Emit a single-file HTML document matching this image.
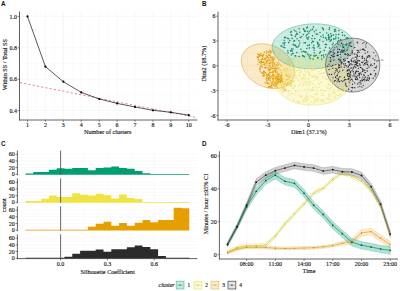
<!DOCTYPE html>
<html><head><meta charset="utf-8"><style>
html,body{margin:0;padding:0;background:#fff;}
svg{display:block;}
</style></head><body>
<svg width="400" height="291" viewBox="0 0 400 291">
<rect width="400" height="291" fill="#fff"/>
<line x1="27.50" y1="11.40" x2="27.50" y2="120.00" stroke="#f2f2f2" stroke-width="0.6" />
<line x1="45.42" y1="11.40" x2="45.42" y2="120.00" stroke="#f2f2f2" stroke-width="0.6" />
<line x1="63.34" y1="11.40" x2="63.34" y2="120.00" stroke="#f2f2f2" stroke-width="0.6" />
<line x1="81.26" y1="11.40" x2="81.26" y2="120.00" stroke="#f2f2f2" stroke-width="0.6" />
<line x1="99.18" y1="11.40" x2="99.18" y2="120.00" stroke="#f2f2f2" stroke-width="0.6" />
<line x1="117.10" y1="11.40" x2="117.10" y2="120.00" stroke="#f2f2f2" stroke-width="0.6" />
<line x1="135.02" y1="11.40" x2="135.02" y2="120.00" stroke="#f2f2f2" stroke-width="0.6" />
<line x1="152.94" y1="11.40" x2="152.94" y2="120.00" stroke="#f2f2f2" stroke-width="0.6" />
<line x1="170.86" y1="11.40" x2="170.86" y2="120.00" stroke="#f2f2f2" stroke-width="0.6" />
<line x1="188.78" y1="11.40" x2="188.78" y2="120.00" stroke="#f2f2f2" stroke-width="0.6" />
<line x1="36.46" y1="11.40" x2="36.46" y2="120.00" stroke="#f2f2f2" stroke-width="0.35" />
<line x1="54.38" y1="11.40" x2="54.38" y2="120.00" stroke="#f2f2f2" stroke-width="0.35" />
<line x1="72.30" y1="11.40" x2="72.30" y2="120.00" stroke="#f2f2f2" stroke-width="0.35" />
<line x1="90.22" y1="11.40" x2="90.22" y2="120.00" stroke="#f2f2f2" stroke-width="0.35" />
<line x1="108.14" y1="11.40" x2="108.14" y2="120.00" stroke="#f2f2f2" stroke-width="0.35" />
<line x1="126.06" y1="11.40" x2="126.06" y2="120.00" stroke="#f2f2f2" stroke-width="0.35" />
<line x1="143.98" y1="11.40" x2="143.98" y2="120.00" stroke="#f2f2f2" stroke-width="0.35" />
<line x1="161.90" y1="11.40" x2="161.90" y2="120.00" stroke="#f2f2f2" stroke-width="0.35" />
<line x1="179.82" y1="11.40" x2="179.82" y2="120.00" stroke="#f2f2f2" stroke-width="0.35" />
<line x1="18.54" y1="11.40" x2="18.54" y2="120.00" stroke="#f2f2f2" stroke-width="0.35" />
<line x1="19.50" y1="110.60" x2="197.30" y2="110.60" stroke="#f2f2f2" stroke-width="0.6" />
<line x1="19.50" y1="79.20" x2="197.30" y2="79.20" stroke="#f2f2f2" stroke-width="0.6" />
<line x1="19.50" y1="47.80" x2="197.30" y2="47.80" stroke="#f2f2f2" stroke-width="0.6" />
<line x1="19.50" y1="16.40" x2="197.30" y2="16.40" stroke="#f2f2f2" stroke-width="0.6" />
<line x1="19.50" y1="94.90" x2="197.30" y2="94.90" stroke="#f2f2f2" stroke-width="0.35" />
<line x1="19.50" y1="63.50" x2="197.30" y2="63.50" stroke="#f2f2f2" stroke-width="0.35" />
<line x1="19.50" y1="32.10" x2="197.30" y2="32.10" stroke="#f2f2f2" stroke-width="0.35" />
<line x1="20.00" y1="82.60" x2="196.40" y2="117.60" stroke="#e2545a" stroke-width="0.7" stroke-dasharray="2.3 2.0"/>
<polyline points="27.50,16.40 45.42,66.64 63.34,81.71 81.26,92.39 99.18,98.98 117.10,103.38 135.02,106.99 152.94,110.29 170.86,112.33 188.78,115.15" fill="none" stroke="#222" stroke-width="0.75"/>
<circle cx="27.50" cy="16.40" r="1.1" fill="#000"/>
<circle cx="45.42" cy="66.64" r="1.1" fill="#000"/>
<circle cx="63.34" cy="81.71" r="1.1" fill="#000"/>
<circle cx="81.26" cy="92.39" r="1.1" fill="#000"/>
<circle cx="99.18" cy="98.98" r="1.1" fill="#000"/>
<circle cx="117.10" cy="103.38" r="1.1" fill="#000"/>
<circle cx="135.02" cy="106.99" r="1.1" fill="#000"/>
<circle cx="152.94" cy="110.29" r="1.1" fill="#000"/>
<circle cx="170.86" cy="112.33" r="1.1" fill="#000"/>
<circle cx="188.78" cy="115.15" r="1.1" fill="#000"/>
<line x1="19.50" y1="11.40" x2="19.50" y2="120.40" stroke="#3a3a3a" stroke-width="0.8" />
<line x1="19.10" y1="120.00" x2="197.30" y2="120.00" stroke="#3a3a3a" stroke-width="0.8" />
<line x1="17.70" y1="110.60" x2="19.50" y2="110.60" stroke="#3a3a3a" stroke-width="0.6" />
<text x="16.90" y="112.70" font-size="6.0" text-anchor="end" font-family='"Liberation Serif", serif' fill="#161616" stroke="#161616" stroke-width="0.14" >0.4</text>
<line x1="17.70" y1="79.20" x2="19.50" y2="79.20" stroke="#3a3a3a" stroke-width="0.6" />
<text x="16.90" y="81.30" font-size="6.0" text-anchor="end" font-family='"Liberation Serif", serif' fill="#161616" stroke="#161616" stroke-width="0.14" >0.6</text>
<line x1="17.70" y1="47.80" x2="19.50" y2="47.80" stroke="#3a3a3a" stroke-width="0.6" />
<text x="16.90" y="49.90" font-size="6.0" text-anchor="end" font-family='"Liberation Serif", serif' fill="#161616" stroke="#161616" stroke-width="0.14" >0.8</text>
<line x1="17.70" y1="16.40" x2="19.50" y2="16.40" stroke="#3a3a3a" stroke-width="0.6" />
<text x="16.90" y="18.50" font-size="6.0" text-anchor="end" font-family='"Liberation Serif", serif' fill="#161616" stroke="#161616" stroke-width="0.14" >1.0</text>
<line x1="27.50" y1="120.00" x2="27.50" y2="121.80" stroke="#3a3a3a" stroke-width="0.6" />
<text x="27.50" y="126.70" font-size="6.0" text-anchor="middle" font-family='"Liberation Serif", serif' fill="#161616" stroke="#161616" stroke-width="0.14" >1</text>
<line x1="45.42" y1="120.00" x2="45.42" y2="121.80" stroke="#3a3a3a" stroke-width="0.6" />
<text x="45.42" y="126.70" font-size="6.0" text-anchor="middle" font-family='"Liberation Serif", serif' fill="#161616" stroke="#161616" stroke-width="0.14" >2</text>
<line x1="63.34" y1="120.00" x2="63.34" y2="121.80" stroke="#3a3a3a" stroke-width="0.6" />
<text x="63.34" y="126.70" font-size="6.0" text-anchor="middle" font-family='"Liberation Serif", serif' fill="#161616" stroke="#161616" stroke-width="0.14" >3</text>
<line x1="81.26" y1="120.00" x2="81.26" y2="121.80" stroke="#3a3a3a" stroke-width="0.6" />
<text x="81.26" y="126.70" font-size="6.0" text-anchor="middle" font-family='"Liberation Serif", serif' fill="#161616" stroke="#161616" stroke-width="0.14" >4</text>
<line x1="99.18" y1="120.00" x2="99.18" y2="121.80" stroke="#3a3a3a" stroke-width="0.6" />
<text x="99.18" y="126.70" font-size="6.0" text-anchor="middle" font-family='"Liberation Serif", serif' fill="#161616" stroke="#161616" stroke-width="0.14" >5</text>
<line x1="117.10" y1="120.00" x2="117.10" y2="121.80" stroke="#3a3a3a" stroke-width="0.6" />
<text x="117.10" y="126.70" font-size="6.0" text-anchor="middle" font-family='"Liberation Serif", serif' fill="#161616" stroke="#161616" stroke-width="0.14" >6</text>
<line x1="135.02" y1="120.00" x2="135.02" y2="121.80" stroke="#3a3a3a" stroke-width="0.6" />
<text x="135.02" y="126.70" font-size="6.0" text-anchor="middle" font-family='"Liberation Serif", serif' fill="#161616" stroke="#161616" stroke-width="0.14" >7</text>
<line x1="152.94" y1="120.00" x2="152.94" y2="121.80" stroke="#3a3a3a" stroke-width="0.6" />
<text x="152.94" y="126.70" font-size="6.0" text-anchor="middle" font-family='"Liberation Serif", serif' fill="#161616" stroke="#161616" stroke-width="0.14" >8</text>
<line x1="170.86" y1="120.00" x2="170.86" y2="121.80" stroke="#3a3a3a" stroke-width="0.6" />
<text x="170.86" y="126.70" font-size="6.0" text-anchor="middle" font-family='"Liberation Serif", serif' fill="#161616" stroke="#161616" stroke-width="0.14" >9</text>
<line x1="188.78" y1="120.00" x2="188.78" y2="121.80" stroke="#3a3a3a" stroke-width="0.6" />
<text x="188.78" y="126.70" font-size="6.0" text-anchor="middle" font-family='"Liberation Serif", serif' fill="#161616" stroke="#161616" stroke-width="0.14" >10</text>
<text x="107.70" y="134.40" font-size="6.2" text-anchor="middle" font-family='"Liberation Serif", serif' fill="#161616" stroke="#161616" stroke-width="0.14" >Number of clusters</text>
<text x="5.20" y="64.60" font-size="6.2" text-anchor="middle" font-family='"Liberation Serif", serif' fill="#161616" stroke="#161616" stroke-width="0.14" transform="rotate(-90 5.2 64.6)" dominant-baseline="middle">Within SS / Total SS</text>
<text x="0.9" y="6.3" font-size="6.3" font-weight="bold" font-family='"Liberation Sans", sans-serif' fill="#111">A</text>
<line x1="227.08" y1="11.60" x2="227.08" y2="120.00" stroke="#f2f2f2" stroke-width="0.6" />
<line x1="218.00" y1="115.42" x2="398.80" y2="115.42" stroke="#f2f2f2" stroke-width="0.6" />
<line x1="267.79" y1="11.60" x2="267.79" y2="120.00" stroke="#f2f2f2" stroke-width="0.6" />
<line x1="218.00" y1="90.61" x2="398.80" y2="90.61" stroke="#f2f2f2" stroke-width="0.6" />
<line x1="308.50" y1="11.60" x2="308.50" y2="120.00" stroke="#f2f2f2" stroke-width="0.6" />
<line x1="218.00" y1="65.80" x2="398.80" y2="65.80" stroke="#f2f2f2" stroke-width="0.6" />
<line x1="349.21" y1="11.60" x2="349.21" y2="120.00" stroke="#f2f2f2" stroke-width="0.6" />
<line x1="218.00" y1="40.99" x2="398.80" y2="40.99" stroke="#f2f2f2" stroke-width="0.6" />
<line x1="389.92" y1="11.60" x2="389.92" y2="120.00" stroke="#f2f2f2" stroke-width="0.6" />
<line x1="218.00" y1="16.18" x2="398.80" y2="16.18" stroke="#f2f2f2" stroke-width="0.6" />
<line x1="247.44" y1="11.60" x2="247.44" y2="120.00" stroke="#f2f2f2" stroke-width="0.35" />
<line x1="218.00" y1="103.01" x2="398.80" y2="103.01" stroke="#f2f2f2" stroke-width="0.35" />
<line x1="288.14" y1="11.60" x2="288.14" y2="120.00" stroke="#f2f2f2" stroke-width="0.35" />
<line x1="218.00" y1="78.20" x2="398.80" y2="78.20" stroke="#f2f2f2" stroke-width="0.35" />
<line x1="328.86" y1="11.60" x2="328.86" y2="120.00" stroke="#f2f2f2" stroke-width="0.35" />
<line x1="218.00" y1="53.39" x2="398.80" y2="53.39" stroke="#f2f2f2" stroke-width="0.35" />
<line x1="369.56" y1="11.60" x2="369.56" y2="120.00" stroke="#f2f2f2" stroke-width="0.35" />
<line x1="218.00" y1="28.59" x2="398.80" y2="28.59" stroke="#f2f2f2" stroke-width="0.35" />
<ellipse cx="268.0" cy="66.2" rx="28.0" ry="20.8" transform="rotate(27 268.0 66.2)" fill="#E69F00" fill-opacity="0.22" stroke="#e3b15a" stroke-width="0.6"/>
<ellipse cx="312.5" cy="80.0" rx="38.5" ry="25.3" transform="rotate(0 312.5 80.0)" fill="#F0E442" fill-opacity="0.22" stroke="#ece07a" stroke-width="0.6"/>
<ellipse cx="313.0" cy="46.3" rx="41" ry="22.5" transform="rotate(-2 313.0 46.3)" fill="#009E73" fill-opacity="0.2" stroke="#5fb99a" stroke-width="0.6"/>
<ellipse cx="352.7" cy="65.1" rx="27.2" ry="27.0" transform="rotate(0 352.7 65.1)" fill="#777777" fill-opacity="0.28" stroke="#444444" stroke-width="0.6"/>
<rect x="299.6" y="66.1" width="1.1" height="1.1" fill="#eee47a"/>
<rect x="322.5" y="62.6" width="1.1" height="1.1" fill="#eee47a"/>
<rect x="314.5" y="75.5" width="1.1" height="1.1" fill="#eee47a"/>
<rect x="281.0" y="81.8" width="1.1" height="1.1" fill="#eee47a"/>
<rect x="279.6" y="78.5" width="1.1" height="1.1" fill="#eee47a"/>
<rect x="306.7" y="95.8" width="1.1" height="1.1" fill="#eee47a"/>
<rect x="285.6" y="69.3" width="1.1" height="1.1" fill="#eee47a"/>
<rect x="320.9" y="101.1" width="1.1" height="1.1" fill="#eee47a"/>
<rect x="317.3" y="76.9" width="1.1" height="1.1" fill="#eee47a"/>
<rect x="337.0" y="72.2" width="1.1" height="1.1" fill="#eee47a"/>
<rect x="298.5" y="95.4" width="1.1" height="1.1" fill="#eee47a"/>
<rect x="289.6" y="85.0" width="1.1" height="1.1" fill="#eee47a"/>
<rect x="321.7" y="75.8" width="1.1" height="1.1" fill="#eee47a"/>
<rect x="315.3" y="62.2" width="1.1" height="1.1" fill="#eee47a"/>
<rect x="324.6" y="78.3" width="1.1" height="1.1" fill="#eee47a"/>
<rect x="298.9" y="85.2" width="1.1" height="1.1" fill="#eee47a"/>
<rect x="308.7" y="72.6" width="1.1" height="1.1" fill="#eee47a"/>
<rect x="332.6" y="90.2" width="1.1" height="1.1" fill="#eee47a"/>
<rect x="294.0" y="84.7" width="1.1" height="1.1" fill="#eee47a"/>
<rect x="313.7" y="98.0" width="1.1" height="1.1" fill="#eee47a"/>
<rect x="328.0" y="72.1" width="1.1" height="1.1" fill="#eee47a"/>
<rect x="306.2" y="92.8" width="1.1" height="1.1" fill="#eee47a"/>
<rect x="287.6" y="81.0" width="1.1" height="1.1" fill="#eee47a"/>
<rect x="279.7" y="88.9" width="1.1" height="1.1" fill="#eee47a"/>
<rect x="330.5" y="84.7" width="1.1" height="1.1" fill="#eee47a"/>
<rect x="338.2" y="73.3" width="1.1" height="1.1" fill="#eee47a"/>
<rect x="325.6" y="85.6" width="1.1" height="1.1" fill="#eee47a"/>
<rect x="317.5" y="79.5" width="1.1" height="1.1" fill="#eee47a"/>
<rect x="310.1" y="88.7" width="1.1" height="1.1" fill="#eee47a"/>
<rect x="281.2" y="90.3" width="1.1" height="1.1" fill="#eee47a"/>
<rect x="334.5" y="72.0" width="1.1" height="1.1" fill="#eee47a"/>
<rect x="304.0" y="88.9" width="1.1" height="1.1" fill="#eee47a"/>
<rect x="278.5" y="79.8" width="1.1" height="1.1" fill="#eee47a"/>
<rect x="286.0" y="70.3" width="1.1" height="1.1" fill="#eee47a"/>
<rect x="304.3" y="97.8" width="1.1" height="1.1" fill="#eee47a"/>
<rect x="282.6" y="79.2" width="1.1" height="1.1" fill="#eee47a"/>
<rect x="315.4" y="98.3" width="1.1" height="1.1" fill="#eee47a"/>
<rect x="334.3" y="97.5" width="1.1" height="1.1" fill="#eee47a"/>
<rect x="296.4" y="77.7" width="1.1" height="1.1" fill="#eee47a"/>
<rect x="302.1" y="98.4" width="1.1" height="1.1" fill="#eee47a"/>
<rect x="289.3" y="69.7" width="1.1" height="1.1" fill="#eee47a"/>
<rect x="293.3" y="80.8" width="1.1" height="1.1" fill="#eee47a"/>
<rect x="318.2" y="71.0" width="1.1" height="1.1" fill="#eee47a"/>
<rect x="302.8" y="84.4" width="1.1" height="1.1" fill="#eee47a"/>
<rect x="343.7" y="89.8" width="1.1" height="1.1" fill="#eee47a"/>
<rect x="313.0" y="86.6" width="1.1" height="1.1" fill="#eee47a"/>
<rect x="324.3" y="61.8" width="1.1" height="1.1" fill="#eee47a"/>
<rect x="339.9" y="93.8" width="1.1" height="1.1" fill="#eee47a"/>
<rect x="338.2" y="94.6" width="1.1" height="1.1" fill="#eee47a"/>
<rect x="304.4" y="77.0" width="1.1" height="1.1" fill="#eee47a"/>
<rect x="284.2" y="87.4" width="1.1" height="1.1" fill="#eee47a"/>
<rect x="291.6" y="66.6" width="1.1" height="1.1" fill="#eee47a"/>
<rect x="300.8" y="61.8" width="1.1" height="1.1" fill="#eee47a"/>
<rect x="284.1" y="75.4" width="1.1" height="1.1" fill="#eee47a"/>
<rect x="319.9" y="66.0" width="1.1" height="1.1" fill="#eee47a"/>
<rect x="294.6" y="74.7" width="1.1" height="1.1" fill="#eee47a"/>
<rect x="302.4" y="64.9" width="1.1" height="1.1" fill="#eee47a"/>
<rect x="309.6" y="80.7" width="1.1" height="1.1" fill="#eee47a"/>
<rect x="300.9" y="71.1" width="1.1" height="1.1" fill="#eee47a"/>
<rect x="335.0" y="66.6" width="1.1" height="1.1" fill="#eee47a"/>
<rect x="313.9" y="65.9" width="1.1" height="1.1" fill="#eee47a"/>
<rect x="315.0" y="60.6" width="1.1" height="1.1" fill="#eee47a"/>
<rect x="313.9" y="102.5" width="1.1" height="1.1" fill="#eee47a"/>
<rect x="337.4" y="90.1" width="1.1" height="1.1" fill="#eee47a"/>
<rect x="295.2" y="75.6" width="1.1" height="1.1" fill="#eee47a"/>
<rect x="288.6" y="93.4" width="1.1" height="1.1" fill="#eee47a"/>
<rect x="314.2" y="93.7" width="1.1" height="1.1" fill="#eee47a"/>
<rect x="300.0" y="69.3" width="1.1" height="1.1" fill="#eee47a"/>
<rect x="336.6" y="94.9" width="1.1" height="1.1" fill="#eee47a"/>
<rect x="334.2" y="92.0" width="1.1" height="1.1" fill="#eee47a"/>
<rect x="292.8" y="82.2" width="1.1" height="1.1" fill="#eee47a"/>
<rect x="301.8" y="60.7" width="1.1" height="1.1" fill="#eee47a"/>
<rect x="295.1" y="89.9" width="1.1" height="1.1" fill="#eee47a"/>
<rect x="343.9" y="79.1" width="1.1" height="1.1" fill="#eee47a"/>
<rect x="343.8" y="75.5" width="1.1" height="1.1" fill="#eee47a"/>
<rect x="292.4" y="69.4" width="1.1" height="1.1" fill="#eee47a"/>
<rect x="290.7" y="68.4" width="1.1" height="1.1" fill="#eee47a"/>
<rect x="320.6" y="99.1" width="1.1" height="1.1" fill="#eee47a"/>
<rect x="335.8" y="80.5" width="1.1" height="1.1" fill="#eee47a"/>
<rect x="322.7" y="94.6" width="1.1" height="1.1" fill="#eee47a"/>
<rect x="282.9" y="88.5" width="1.1" height="1.1" fill="#eee47a"/>
<rect x="340.6" y="93.9" width="1.1" height="1.1" fill="#eee47a"/>
<rect x="329.5" y="80.5" width="1.1" height="1.1" fill="#eee47a"/>
<rect x="289.4" y="94.2" width="1.1" height="1.1" fill="#eee47a"/>
<rect x="300.2" y="94.7" width="1.1" height="1.1" fill="#eee47a"/>
<rect x="345.0" y="76.9" width="1.1" height="1.1" fill="#eee47a"/>
<rect x="305.0" y="101.1" width="1.1" height="1.1" fill="#eee47a"/>
<rect x="327.7" y="66.9" width="1.1" height="1.1" fill="#eee47a"/>
<rect x="287.2" y="95.8" width="1.1" height="1.1" fill="#eee47a"/>
<rect x="301.5" y="83.6" width="1.1" height="1.1" fill="#eee47a"/>
<rect x="344.9" y="88.0" width="1.1" height="1.1" fill="#eee47a"/>
<rect x="313.8" y="100.5" width="1.1" height="1.1" fill="#eee47a"/>
<rect x="307.3" y="97.8" width="1.1" height="1.1" fill="#eee47a"/>
<rect x="334.8" y="68.7" width="1.1" height="1.1" fill="#eee47a"/>
<rect x="294.6" y="72.3" width="1.1" height="1.1" fill="#eee47a"/>
<rect x="293.8" y="85.3" width="1.1" height="1.1" fill="#eee47a"/>
<rect x="295.1" y="77.9" width="1.1" height="1.1" fill="#eee47a"/>
<rect x="301.7" y="79.6" width="1.1" height="1.1" fill="#eee47a"/>
<rect x="317.8" y="99.2" width="1.1" height="1.1" fill="#eee47a"/>
<rect x="306.4" y="99.8" width="1.1" height="1.1" fill="#eee47a"/>
<rect x="312.1" y="82.9" width="1.1" height="1.1" fill="#eee47a"/>
<rect x="313.6" y="60.3" width="1.1" height="1.1" fill="#eee47a"/>
<rect x="307.8" y="67.5" width="1.1" height="1.1" fill="#eee47a"/>
<rect x="289.0" y="80.3" width="1.1" height="1.1" fill="#eee47a"/>
<rect x="327.7" y="83.9" width="1.1" height="1.1" fill="#eee47a"/>
<rect x="299.8" y="82.3" width="1.1" height="1.1" fill="#eee47a"/>
<rect x="315.8" y="94.0" width="1.1" height="1.1" fill="#eee47a"/>
<rect x="284.4" y="84.1" width="1.1" height="1.1" fill="#eee47a"/>
<rect x="294.3" y="71.6" width="1.1" height="1.1" fill="#eee47a"/>
<rect x="331.0" y="81.8" width="1.1" height="1.1" fill="#eee47a"/>
<rect x="316.3" y="92.9" width="1.1" height="1.1" fill="#eee47a"/>
<rect x="340.8" y="79.0" width="1.1" height="1.1" fill="#eee47a"/>
<rect x="319.8" y="81.7" width="1.1" height="1.1" fill="#eee47a"/>
<rect x="312.8" y="89.9" width="1.1" height="1.1" fill="#eee47a"/>
<rect x="308.6" y="82.9" width="1.1" height="1.1" fill="#eee47a"/>
<rect x="310.4" y="100.9" width="1.1" height="1.1" fill="#eee47a"/>
<rect x="325.9" y="98.0" width="1.1" height="1.1" fill="#eee47a"/>
<rect x="316.1" y="101.0" width="1.1" height="1.1" fill="#eee47a"/>
<rect x="335.7" y="65.5" width="1.1" height="1.1" fill="#eee47a"/>
<rect x="285.5" y="78.9" width="1.1" height="1.1" fill="#eee47a"/>
<rect x="282.0" y="70.0" width="1.1" height="1.1" fill="#eee47a"/>
<rect x="282.1" y="88.9" width="1.1" height="1.1" fill="#eee47a"/>
<rect x="331.8" y="98.9" width="1.1" height="1.1" fill="#eee47a"/>
<rect x="287.8" y="91.0" width="1.1" height="1.1" fill="#eee47a"/>
<rect x="323.2" y="65.7" width="1.1" height="1.1" fill="#eee47a"/>
<rect x="304.8" y="80.9" width="1.1" height="1.1" fill="#eee47a"/>
<rect x="288.3" y="78.4" width="1.1" height="1.1" fill="#eee47a"/>
<rect x="313.0" y="74.4" width="1.1" height="1.1" fill="#eee47a"/>
<rect x="290.7" y="73.5" width="1.1" height="1.1" fill="#eee47a"/>
<rect x="315.7" y="78.8" width="1.1" height="1.1" fill="#eee47a"/>
<rect x="320.6" y="82.0" width="1.1" height="1.1" fill="#eee47a"/>
<rect x="284.3" y="71.1" width="1.1" height="1.1" fill="#eee47a"/>
<rect x="295.9" y="65.2" width="1.1" height="1.1" fill="#eee47a"/>
<rect x="306.5" y="99.6" width="1.1" height="1.1" fill="#eee47a"/>
<rect x="334.3" y="70.8" width="1.1" height="1.1" fill="#eee47a"/>
<rect x="316.9" y="90.3" width="1.1" height="1.1" fill="#eee47a"/>
<rect x="325.1" y="78.2" width="1.1" height="1.1" fill="#eee47a"/>
<rect x="321.4" y="94.7" width="1.1" height="1.1" fill="#eee47a"/>
<rect x="308.7" y="74.4" width="1.1" height="1.1" fill="#eee47a"/>
<rect x="315.7" y="100.2" width="1.1" height="1.1" fill="#eee47a"/>
<rect x="295.7" y="65.1" width="1.1" height="1.1" fill="#eee47a"/>
<rect x="313.8" y="69.9" width="1.1" height="1.1" fill="#eee47a"/>
<rect x="298.8" y="72.9" width="1.1" height="1.1" fill="#eee47a"/>
<rect x="330.1" y="72.2" width="1.1" height="1.1" fill="#eee47a"/>
<rect x="312.0" y="67.3" width="1.1" height="1.1" fill="#eee47a"/>
<rect x="328.3" y="83.7" width="1.1" height="1.1" fill="#eee47a"/>
<rect x="290.2" y="80.3" width="1.1" height="1.1" fill="#eee47a"/>
<rect x="334.3" y="78.5" width="1.1" height="1.1" fill="#eee47a"/>
<rect x="311.6" y="96.2" width="1.1" height="1.1" fill="#eee47a"/>
<rect x="304.5" y="81.7" width="1.1" height="1.1" fill="#eee47a"/>
<rect x="300.9" y="96.1" width="1.1" height="1.1" fill="#eee47a"/>
<rect x="326.4" y="87.4" width="1.1" height="1.1" fill="#eee47a"/>
<rect x="305.3" y="74.7" width="1.1" height="1.1" fill="#eee47a"/>
<rect x="281.9" y="92.0" width="1.1" height="1.1" fill="#eee47a"/>
<rect x="294.8" y="66.6" width="1.1" height="1.1" fill="#eee47a"/>
<rect x="337.9" y="89.0" width="1.1" height="1.1" fill="#eee47a"/>
<rect x="296.7" y="70.1" width="1.1" height="1.1" fill="#eee47a"/>
<rect x="297.5" y="79.7" width="1.1" height="1.1" fill="#eee47a"/>
<rect x="288.0" y="79.1" width="1.1" height="1.1" fill="#eee47a"/>
<rect x="345.0" y="83.5" width="1.1" height="1.1" fill="#eee47a"/>
<rect x="298.6" y="75.1" width="1.1" height="1.1" fill="#eee47a"/>
<rect x="310.2" y="81.6" width="1.1" height="1.1" fill="#eee47a"/>
<rect x="291.0" y="81.7" width="1.1" height="1.1" fill="#eee47a"/>
<rect x="283.2" y="77.0" width="1.1" height="1.1" fill="#eee47a"/>
<rect x="298.2" y="69.7" width="1.1" height="1.1" fill="#eee47a"/>
<rect x="317.9" y="82.7" width="1.1" height="1.1" fill="#eee47a"/>
<rect x="329.5" y="88.4" width="1.1" height="1.1" fill="#eee47a"/>
<rect x="327.1" y="98.1" width="1.1" height="1.1" fill="#eee47a"/>
<rect x="304.2" y="73.8" width="1.1" height="1.1" fill="#eee47a"/>
<rect x="327.6" y="87.8" width="1.1" height="1.1" fill="#eee47a"/>
<rect x="339.4" y="87.1" width="1.1" height="1.1" fill="#eee47a"/>
<rect x="328.3" y="95.2" width="1.1" height="1.1" fill="#eee47a"/>
<rect x="286.7" y="82.5" width="1.1" height="1.1" fill="#eee47a"/>
<rect x="312.3" y="96.2" width="1.1" height="1.1" fill="#eee47a"/>
<rect x="333.3" y="95.8" width="1.1" height="1.1" fill="#eee47a"/>
<rect x="317.8" y="98.7" width="1.1" height="1.1" fill="#eee47a"/>
<rect x="324.8" y="90.0" width="1.1" height="1.1" fill="#eee47a"/>
<rect x="286.3" y="75.3" width="1.1" height="1.1" fill="#eee47a"/>
<rect x="316.0" y="87.1" width="1.1" height="1.1" fill="#eee47a"/>
<rect x="320.8" y="89.4" width="1.1" height="1.1" fill="#eee47a"/>
<rect x="311.2" y="59.6" width="1.1" height="1.1" fill="#eee47a"/>
<rect x="332.8" y="92.4" width="1.1" height="1.1" fill="#eee47a"/>
<rect x="312.2" y="83.0" width="1.1" height="1.1" fill="#eee47a"/>
<rect x="323.1" y="62.4" width="1.1" height="1.1" fill="#eee47a"/>
<rect x="328.5" y="70.5" width="1.1" height="1.1" fill="#eee47a"/>
<rect x="282.2" y="71.1" width="1.1" height="1.1" fill="#eee47a"/>
<rect x="328.0" y="68.5" width="1.1" height="1.1" fill="#eee47a"/>
<rect x="311.5" y="76.3" width="1.1" height="1.1" fill="#eee47a"/>
<rect x="310.5" y="89.5" width="1.1" height="1.1" fill="#eee47a"/>
<rect x="330.6" y="86.6" width="1.1" height="1.1" fill="#eee47a"/>
<rect x="321.9" y="62.9" width="1.1" height="1.1" fill="#eee47a"/>
<rect x="287.3" y="70.6" width="1.1" height="1.1" fill="#eee47a"/>
<rect x="329.0" y="72.8" width="1.1" height="1.1" fill="#eee47a"/>
<rect x="316.7" y="60.0" width="1.1" height="1.1" fill="#eee47a"/>
<rect x="281.2" y="71.3" width="1.1" height="1.1" fill="#eee47a"/>
<rect x="324.0" y="89.9" width="1.1" height="1.1" fill="#eee47a"/>
<rect x="324.2" y="72.2" width="1.1" height="1.1" fill="#eee47a"/>
<rect x="313.1" y="79.9" width="1.1" height="1.1" fill="#eee47a"/>
<rect x="309.6" y="64.7" width="1.1" height="1.1" fill="#eee47a"/>
<rect x="339.5" y="68.2" width="1.1" height="1.1" fill="#eee47a"/>
<rect x="278.2" y="79.6" width="1.1" height="1.1" fill="#eee47a"/>
<rect x="308.4" y="71.3" width="1.1" height="1.1" fill="#eee47a"/>
<rect x="291.7" y="85.0" width="1.1" height="1.1" fill="#eee47a"/>
<rect x="286.9" y="82.5" width="1.1" height="1.1" fill="#eee47a"/>
<rect x="334.4" y="81.8" width="1.1" height="1.1" fill="#eee47a"/>
<rect x="339.0" y="90.4" width="1.1" height="1.1" fill="#eee47a"/>
<rect x="293.1" y="98.9" width="1.1" height="1.1" fill="#eee47a"/>
<rect x="311.0" y="60.5" width="1.1" height="1.1" fill="#eee47a"/>
<rect x="277.2" y="81.1" width="1.1" height="1.1" fill="#eee47a"/>
<rect x="308.5" y="72.7" width="1.1" height="1.1" fill="#eee47a"/>
<rect x="286.8" y="74.6" width="1.1" height="1.1" fill="#eee47a"/>
<rect x="299.1" y="96.4" width="1.1" height="1.1" fill="#eee47a"/>
<rect x="341.8" y="90.8" width="1.1" height="1.1" fill="#eee47a"/>
<rect x="340.1" y="72.2" width="1.1" height="1.1" fill="#eee47a"/>
<rect x="303.0" y="76.7" width="1.1" height="1.1" fill="#eee47a"/>
<rect x="302.2" y="78.3" width="1.1" height="1.1" fill="#eee47a"/>
<rect x="296.9" y="100.6" width="1.1" height="1.1" fill="#eee47a"/>
<rect x="294.4" y="71.1" width="1.1" height="1.1" fill="#eee47a"/>
<rect x="312.7" y="67.8" width="1.1" height="1.1" fill="#eee47a"/>
<rect x="303.1" y="101.5" width="1.1" height="1.1" fill="#eee47a"/>
<rect x="338.8" y="95.2" width="1.1" height="1.1" fill="#eee47a"/>
<rect x="321.1" y="99.6" width="1.1" height="1.1" fill="#eee47a"/>
<rect x="342.8" y="83.6" width="1.1" height="1.1" fill="#eee47a"/>
<rect x="328.2" y="79.3" width="1.1" height="1.1" fill="#eee47a"/>
<rect x="329.6" y="87.8" width="1.1" height="1.1" fill="#eee47a"/>
<rect x="297.0" y="61.6" width="1.1" height="1.1" fill="#eee47a"/>
<rect x="310.0" y="74.6" width="1.1" height="1.1" fill="#eee47a"/>
<rect x="297.8" y="92.0" width="1.1" height="1.1" fill="#eee47a"/>
<rect x="322.9" y="72.7" width="1.1" height="1.1" fill="#eee47a"/>
<rect x="316.0" y="76.8" width="1.1" height="1.1" fill="#eee47a"/>
<rect x="288.7" y="66.6" width="1.1" height="1.1" fill="#eee47a"/>
<rect x="311.7" y="69.1" width="1.1" height="1.1" fill="#eee47a"/>
<rect x="308.4" y="65.6" width="1.1" height="1.1" fill="#eee47a"/>
<rect x="300.9" y="63.5" width="1.1" height="1.1" fill="#eee47a"/>
<rect x="293.7" y="70.8" width="1.1" height="1.1" fill="#eee47a"/>
<rect x="316.8" y="98.5" width="1.1" height="1.1" fill="#eee47a"/>
<rect x="329.4" y="77.6" width="1.1" height="1.1" fill="#eee47a"/>
<rect x="305.9" y="82.5" width="1.1" height="1.1" fill="#eee47a"/>
<rect x="303.3" y="74.3" width="1.1" height="1.1" fill="#eee47a"/>
<rect x="281.3" y="71.7" width="1.1" height="1.1" fill="#eee47a"/>
<rect x="312.2" y="87.2" width="1.1" height="1.1" fill="#eee47a"/>
<rect x="337.4" y="69.0" width="1.1" height="1.1" fill="#eee47a"/>
<rect x="295.9" y="70.4" width="1.1" height="1.1" fill="#eee47a"/>
<rect x="304.9" y="79.1" width="1.1" height="1.1" fill="#eee47a"/>
<rect x="339.6" y="80.3" width="1.1" height="1.1" fill="#eee47a"/>
<rect x="304.4" y="100.2" width="1.1" height="1.1" fill="#eee47a"/>
<rect x="334.7" y="97.1" width="1.1" height="1.1" fill="#eee47a"/>
<rect x="313.5" y="89.5" width="1.1" height="1.1" fill="#eee47a"/>
<rect x="342.9" y="91.2" width="1.1" height="1.1" fill="#eee47a"/>
<rect x="322.3" y="93.1" width="1.1" height="1.1" fill="#eee47a"/>
<rect x="309.0" y="83.7" width="1.1" height="1.1" fill="#eee47a"/>
<rect x="293.2" y="99.9" width="1.1" height="1.1" fill="#eee47a"/>
<rect x="322.1" y="72.8" width="1.1" height="1.1" fill="#eee47a"/>
<rect x="285.9" y="70.5" width="1.1" height="1.1" fill="#eee47a"/>
<rect x="321.5" y="90.2" width="1.1" height="1.1" fill="#eee47a"/>
<rect x="313.7" y="85.1" width="1.1" height="1.1" fill="#eee47a"/>
<rect x="304.1" y="69.3" width="1.1" height="1.1" fill="#eee47a"/>
<rect x="319.0" y="59.9" width="1.1" height="1.1" fill="#eee47a"/>
<rect x="298.1" y="79.7" width="1.1" height="1.1" fill="#eee47a"/>
<rect x="344.1" y="87.8" width="1.1" height="1.1" fill="#eee47a"/>
<rect x="338.8" y="80.4" width="1.1" height="1.1" fill="#eee47a"/>
<rect x="293.4" y="70.3" width="1.1" height="1.1" fill="#eee47a"/>
<rect x="311.8" y="89.1" width="1.1" height="1.1" fill="#eee47a"/>
<rect x="306.4" y="70.8" width="1.1" height="1.1" fill="#eee47a"/>
<rect x="323.7" y="100.2" width="1.1" height="1.1" fill="#eee47a"/>
<rect x="300.6" y="78.0" width="1.1" height="1.1" fill="#eee47a"/>
<rect x="324.7" y="68.2" width="1.1" height="1.1" fill="#eee47a"/>
<rect x="332.7" y="92.0" width="1.1" height="1.1" fill="#eee47a"/>
<rect x="312.3" y="68.5" width="1.1" height="1.1" fill="#eee47a"/>
<rect x="334.4" y="69.6" width="1.1" height="1.1" fill="#eee47a"/>
<rect x="292.5" y="92.9" width="1.1" height="1.1" fill="#eee47a"/>
<rect x="297.6" y="101.3" width="1.1" height="1.1" fill="#eee47a"/>
<rect x="311.7" y="67.7" width="1.1" height="1.1" fill="#eee47a"/>
<rect x="292.6" y="77.8" width="1.1" height="1.1" fill="#eee47a"/>
<rect x="323.5" y="101.2" width="1.1" height="1.1" fill="#eee47a"/>
<rect x="287.2" y="76.8" width="1.1" height="1.1" fill="#eee47a"/>
<rect x="281.2" y="76.8" width="1.1" height="1.1" fill="#eee47a"/>
<rect x="342.2" y="73.9" width="1.1" height="1.1" fill="#eee47a"/>
<rect x="323.5" y="76.1" width="1.1" height="1.1" fill="#eee47a"/>
<rect x="303.1" y="74.0" width="1.1" height="1.1" fill="#eee47a"/>
<rect x="296.5" y="74.9" width="1.1" height="1.1" fill="#eee47a"/>
<rect x="301.9" y="95.6" width="1.1" height="1.1" fill="#eee47a"/>
<rect x="334.5" y="78.5" width="1.1" height="1.1" fill="#eee47a"/>
<rect x="280.4" y="80.3" width="1.1" height="1.1" fill="#eee47a"/>
<rect x="303.0" y="99.9" width="1.1" height="1.1" fill="#eee47a"/>
<rect x="290.5" y="75.5" width="1.1" height="1.1" fill="#eee47a"/>
<rect x="305.7" y="95.2" width="1.1" height="1.1" fill="#eee47a"/>
<rect x="341.4" y="70.8" width="1.1" height="1.1" fill="#eee47a"/>
<rect x="329.3" y="99.0" width="1.1" height="1.1" fill="#eee47a"/>
<rect x="300.7" y="71.4" width="1.1" height="1.1" fill="#eee47a"/>
<rect x="344.0" y="86.6" width="1.1" height="1.1" fill="#eee47a"/>
<rect x="295.3" y="91.0" width="1.1" height="1.1" fill="#eee47a"/>
<rect x="299.1" y="71.6" width="1.1" height="1.1" fill="#eee47a"/>
<rect x="341.1" y="87.3" width="1.1" height="1.1" fill="#eee47a"/>
<rect x="293.3" y="80.4" width="1.1" height="1.1" fill="#eee47a"/>
<rect x="304.0" y="70.5" width="1.1" height="1.1" fill="#eee47a"/>
<rect x="307.0" y="81.2" width="1.1" height="1.1" fill="#eee47a"/>
<rect x="333.1" y="91.9" width="1.1" height="1.1" fill="#eee47a"/>
<rect x="334.5" y="93.5" width="1.1" height="1.1" fill="#eee47a"/>
<rect x="319.5" y="73.9" width="1.1" height="1.1" fill="#eee47a"/>
<rect x="299.3" y="75.4" width="1.1" height="1.1" fill="#eee47a"/>
<rect x="290.8" y="92.6" width="1.1" height="1.1" fill="#eee47a"/>
<rect x="279.3" y="83.8" width="1.1" height="1.1" fill="#eee47a"/>
<rect x="295.5" y="63.1" width="1.1" height="1.1" fill="#eee47a"/>
<rect x="283.7" y="81.4" width="1.1" height="1.1" fill="#eee47a"/>
<rect x="326.6" y="79.1" width="1.1" height="1.1" fill="#eee47a"/>
<rect x="293.3" y="77.8" width="1.1" height="1.1" fill="#eee47a"/>
<rect x="320.4" y="89.1" width="1.1" height="1.1" fill="#eee47a"/>
<rect x="329.3" y="96.7" width="1.1" height="1.1" fill="#eee47a"/>
<rect x="323.5" y="64.8" width="1.1" height="1.1" fill="#eee47a"/>
<rect x="335.8" y="72.4" width="1.1" height="1.1" fill="#eee47a"/>
<rect x="316.6" y="75.9" width="1.1" height="1.1" fill="#eee47a"/>
<rect x="328.6" y="68.2" width="1.1" height="1.1" fill="#eee47a"/>
<rect x="294.3" y="70.2" width="1.1" height="1.1" fill="#eee47a"/>
<rect x="317.4" y="73.8" width="1.1" height="1.1" fill="#eee47a"/>
<rect x="312.5" y="69.6" width="1.1" height="1.1" fill="#eee47a"/>
<rect x="333.5" y="88.2" width="1.1" height="1.1" fill="#eee47a"/>
<rect x="310.2" y="95.5" width="1.1" height="1.1" fill="#eee47a"/>
<rect x="285.3" y="67.8" width="1.1" height="1.1" fill="#eee47a"/>
<rect x="345.1" y="85.1" width="1.1" height="1.1" fill="#eee47a"/>
<rect x="342.1" y="75.8" width="1.1" height="1.1" fill="#eee47a"/>
<rect x="337.6" y="79.2" width="1.1" height="1.1" fill="#eee47a"/>
<rect x="295.1" y="93.7" width="1.1" height="1.1" fill="#eee47a"/>
<rect x="318.7" y="86.7" width="1.1" height="1.1" fill="#eee47a"/>
<rect x="292.2" y="75.7" width="1.1" height="1.1" fill="#eee47a"/>
<rect x="286.8" y="68.4" width="1.1" height="1.1" fill="#eee47a"/>
<rect x="294.8" y="85.8" width="1.1" height="1.1" fill="#eee47a"/>
<rect x="322.6" y="68.4" width="1.1" height="1.1" fill="#eee47a"/>
<rect x="324.4" y="67.6" width="1.1" height="1.1" fill="#eee47a"/>
<rect x="298.8" y="68.4" width="1.1" height="1.1" fill="#eee47a"/>
<rect x="332.6" y="83.6" width="1.1" height="1.1" fill="#eee47a"/>
<rect x="304.6" y="83.7" width="1.1" height="1.1" fill="#eee47a"/>
<rect x="321.7" y="63.5" width="1.1" height="1.1" fill="#eee47a"/>
<rect x="288.4" y="90.0" width="1.1" height="1.1" fill="#eee47a"/>
<rect x="305.6" y="71.9" width="1.1" height="1.1" fill="#eee47a"/>
<rect x="298.5" y="101.4" width="1.1" height="1.1" fill="#eee47a"/>
<rect x="298.8" y="84.4" width="1.1" height="1.1" fill="#eee47a"/>
<rect x="302.0" y="77.8" width="1.1" height="1.1" fill="#eee47a"/>
<rect x="302.4" y="68.1" width="1.1" height="1.1" fill="#eee47a"/>
<rect x="327.9" y="68.4" width="1.1" height="1.1" fill="#eee47a"/>
<rect x="306.6" y="95.5" width="1.1" height="1.1" fill="#eee47a"/>
<rect x="305.4" y="98.3" width="1.1" height="1.1" fill="#eee47a"/>
<rect x="309.2" y="66.6" width="1.1" height="1.1" fill="#eee47a"/>
<rect x="278.0" y="83.7" width="1.1" height="1.1" fill="#eee47a"/>
<rect x="321.8" y="99.5" width="1.1" height="1.1" fill="#eee47a"/>
<rect x="283.2" y="86.8" width="1.1" height="1.1" fill="#eee47a"/>
<rect x="302.9" y="81.6" width="1.1" height="1.1" fill="#eee47a"/>
<rect x="287.2" y="71.9" width="1.1" height="1.1" fill="#eee47a"/>
<rect x="313.4" y="100.2" width="1.1" height="1.1" fill="#eee47a"/>
<rect x="284.6" y="81.0" width="1.1" height="1.1" fill="#eee47a"/>
<rect x="290.8" y="65.0" width="1.1" height="1.1" fill="#eee47a"/>
<rect x="310.7" y="61.8" width="1.1" height="1.1" fill="#eee47a"/>
<rect x="341.8" y="76.5" width="1.1" height="1.1" fill="#eee47a"/>
<rect x="340.2" y="86.7" width="1.1" height="1.1" fill="#eee47a"/>
<rect x="334.7" y="66.5" width="1.1" height="1.1" fill="#eee47a"/>
<rect x="332.0" y="69.2" width="1.1" height="1.1" fill="#eee47a"/>
<rect x="305.3" y="96.7" width="1.1" height="1.1" fill="#eee47a"/>
<rect x="335.0" y="67.5" width="1.1" height="1.1" fill="#eee47a"/>
<rect x="292.2" y="77.0" width="1.1" height="1.1" fill="#eee47a"/>
<rect x="313.2" y="76.3" width="1.1" height="1.1" fill="#eee47a"/>
<rect x="285.6" y="70.3" width="1.1" height="1.1" fill="#eee47a"/>
<rect x="327.7" y="98.9" width="1.1" height="1.1" fill="#eee47a"/>
<rect x="279.8" y="84.2" width="1.1" height="1.1" fill="#eee47a"/>
<rect x="318.9" y="83.7" width="1.1" height="1.1" fill="#eee47a"/>
<rect x="320.8" y="72.9" width="1.1" height="1.1" fill="#eee47a"/>
<rect x="306.4" y="85.1" width="1.1" height="1.1" fill="#eee47a"/>
<rect x="306.8" y="88.4" width="1.1" height="1.1" fill="#eee47a"/>
<rect x="308.2" y="78.7" width="1.1" height="1.1" fill="#eee47a"/>
<rect x="278.6" y="86.7" width="1.1" height="1.1" fill="#eee47a"/>
<rect x="311.2" y="69.8" width="1.1" height="1.1" fill="#eee47a"/>
<rect x="330.4" y="93.8" width="1.1" height="1.1" fill="#eee47a"/>
<rect x="309.0" y="67.4" width="1.1" height="1.1" fill="#eee47a"/>
<rect x="310.1" y="64.2" width="1.1" height="1.1" fill="#eee47a"/>
<rect x="285.9" y="78.4" width="1.1" height="1.1" fill="#eee47a"/>
<rect x="283.4" y="78.9" width="1.1" height="1.1" fill="#eee47a"/>
<rect x="312.7" y="61.2" width="1.1" height="1.1" fill="#eee47a"/>
<rect x="321.5" y="63.1" width="1.1" height="1.1" fill="#eee47a"/>
<rect x="328.3" y="93.7" width="1.1" height="1.1" fill="#eee47a"/>
<rect x="312.8" y="61.8" width="1.1" height="1.1" fill="#eee47a"/>
<rect x="312.2" y="76.1" width="1.1" height="1.1" fill="#eee47a"/>
<rect x="273.5" y="51.6" width="1.2" height="1.2" fill="#e39a05"/>
<rect x="277.6" y="79.4" width="1.2" height="1.2" fill="#e39a05"/>
<rect x="275.1" y="83.0" width="1.2" height="1.2" fill="#e39a05"/>
<rect x="279.8" y="81.1" width="1.2" height="1.2" fill="#e39a05"/>
<rect x="269.5" y="55.1" width="1.2" height="1.2" fill="#e39a05"/>
<rect x="267.9" y="54.6" width="1.2" height="1.2" fill="#e39a05"/>
<rect x="260.8" y="61.9" width="1.2" height="1.2" fill="#e39a05"/>
<rect x="258.8" y="61.8" width="1.2" height="1.2" fill="#e39a05"/>
<rect x="277.7" y="81.4" width="1.2" height="1.2" fill="#e39a05"/>
<rect x="262.9" y="70.7" width="1.2" height="1.2" fill="#e39a05"/>
<rect x="274.4" y="67.1" width="1.2" height="1.2" fill="#e39a05"/>
<rect x="268.4" y="86.0" width="1.2" height="1.2" fill="#e39a05"/>
<rect x="272.0" y="58.7" width="1.2" height="1.2" fill="#e39a05"/>
<rect x="269.8" y="77.8" width="1.2" height="1.2" fill="#e39a05"/>
<rect x="267.7" y="51.3" width="1.2" height="1.2" fill="#e39a05"/>
<rect x="276.4" y="82.8" width="1.2" height="1.2" fill="#e39a05"/>
<rect x="260.4" y="52.8" width="1.2" height="1.2" fill="#e39a05"/>
<rect x="268.5" y="65.1" width="1.2" height="1.2" fill="#e39a05"/>
<rect x="259.8" y="61.0" width="1.2" height="1.2" fill="#e39a05"/>
<rect x="260.0" y="66.6" width="1.2" height="1.2" fill="#e39a05"/>
<rect x="265.3" y="72.1" width="1.2" height="1.2" fill="#e39a05"/>
<rect x="272.1" y="68.0" width="1.2" height="1.2" fill="#e39a05"/>
<rect x="261.6" y="58.6" width="1.2" height="1.2" fill="#e39a05"/>
<rect x="278.1" y="75.8" width="1.2" height="1.2" fill="#e39a05"/>
<rect x="262.5" y="75.3" width="1.2" height="1.2" fill="#e39a05"/>
<rect x="272.0" y="65.0" width="1.2" height="1.2" fill="#e39a05"/>
<rect x="271.1" y="83.1" width="1.2" height="1.2" fill="#e39a05"/>
<rect x="265.7" y="60.5" width="1.2" height="1.2" fill="#e39a05"/>
<rect x="262.4" y="72.4" width="1.2" height="1.2" fill="#e39a05"/>
<rect x="264.5" y="73.3" width="1.2" height="1.2" fill="#e39a05"/>
<rect x="269.9" y="56.3" width="1.2" height="1.2" fill="#e39a05"/>
<rect x="267.1" y="82.2" width="1.2" height="1.2" fill="#e39a05"/>
<rect x="265.5" y="81.3" width="1.2" height="1.2" fill="#e39a05"/>
<rect x="272.5" y="65.6" width="1.2" height="1.2" fill="#e39a05"/>
<rect x="258.4" y="55.5" width="1.2" height="1.2" fill="#e39a05"/>
<rect x="276.4" y="77.9" width="1.2" height="1.2" fill="#e39a05"/>
<rect x="269.4" y="64.8" width="1.2" height="1.2" fill="#e39a05"/>
<rect x="267.7" y="74.0" width="1.2" height="1.2" fill="#e39a05"/>
<rect x="269.1" y="50.6" width="1.2" height="1.2" fill="#e39a05"/>
<rect x="278.6" y="80.8" width="1.2" height="1.2" fill="#e39a05"/>
<rect x="273.2" y="62.1" width="1.2" height="1.2" fill="#e39a05"/>
<rect x="272.5" y="71.9" width="1.2" height="1.2" fill="#e39a05"/>
<rect x="272.4" y="78.0" width="1.2" height="1.2" fill="#e39a05"/>
<rect x="270.3" y="75.6" width="1.2" height="1.2" fill="#e39a05"/>
<rect x="267.6" y="74.6" width="1.2" height="1.2" fill="#e39a05"/>
<rect x="259.0" y="55.6" width="1.2" height="1.2" fill="#e39a05"/>
<rect x="262.4" y="57.2" width="1.2" height="1.2" fill="#e39a05"/>
<rect x="273.5" y="70.3" width="1.2" height="1.2" fill="#e39a05"/>
<rect x="262.4" y="74.6" width="1.2" height="1.2" fill="#e39a05"/>
<rect x="280.6" y="80.0" width="1.2" height="1.2" fill="#e39a05"/>
<rect x="281.8" y="80.9" width="1.2" height="1.2" fill="#e39a05"/>
<rect x="258.0" y="53.7" width="1.2" height="1.2" fill="#e39a05"/>
<rect x="274.9" y="77.7" width="1.2" height="1.2" fill="#e39a05"/>
<rect x="257.7" y="56.5" width="1.2" height="1.2" fill="#e39a05"/>
<rect x="265.9" y="66.7" width="1.2" height="1.2" fill="#e39a05"/>
<rect x="267.9" y="77.0" width="1.2" height="1.2" fill="#e39a05"/>
<rect x="277.3" y="64.8" width="1.2" height="1.2" fill="#e39a05"/>
<rect x="259.3" y="68.4" width="1.2" height="1.2" fill="#e39a05"/>
<rect x="268.7" y="75.6" width="1.2" height="1.2" fill="#e39a05"/>
<rect x="270.0" y="52.2" width="1.2" height="1.2" fill="#e39a05"/>
<rect x="257.6" y="58.9" width="1.2" height="1.2" fill="#e39a05"/>
<rect x="259.7" y="70.6" width="1.2" height="1.2" fill="#e39a05"/>
<rect x="263.2" y="70.9" width="1.2" height="1.2" fill="#e39a05"/>
<rect x="270.8" y="84.7" width="1.2" height="1.2" fill="#e39a05"/>
<rect x="273.2" y="67.7" width="1.2" height="1.2" fill="#e39a05"/>
<rect x="265.6" y="78.6" width="1.2" height="1.2" fill="#e39a05"/>
<rect x="268.7" y="63.1" width="1.2" height="1.2" fill="#e39a05"/>
<rect x="270.4" y="52.2" width="1.2" height="1.2" fill="#e39a05"/>
<rect x="262.3" y="61.4" width="1.2" height="1.2" fill="#e39a05"/>
<rect x="272.1" y="82.4" width="1.2" height="1.2" fill="#e39a05"/>
<rect x="272.9" y="75.2" width="1.2" height="1.2" fill="#e39a05"/>
<rect x="265.4" y="64.5" width="1.2" height="1.2" fill="#e39a05"/>
<rect x="275.2" y="76.0" width="1.2" height="1.2" fill="#e39a05"/>
<rect x="275.1" y="69.9" width="1.2" height="1.2" fill="#e39a05"/>
<rect x="272.3" y="58.0" width="1.2" height="1.2" fill="#e39a05"/>
<rect x="277.0" y="78.8" width="1.2" height="1.2" fill="#e39a05"/>
<rect x="262.5" y="63.7" width="1.2" height="1.2" fill="#e39a05"/>
<rect x="263.8" y="58.6" width="1.2" height="1.2" fill="#e39a05"/>
<rect x="269.2" y="86.1" width="1.2" height="1.2" fill="#e39a05"/>
<rect x="280.5" y="74.4" width="1.2" height="1.2" fill="#e39a05"/>
<rect x="266.4" y="74.7" width="1.2" height="1.2" fill="#e39a05"/>
<rect x="260.4" y="54.2" width="1.2" height="1.2" fill="#e39a05"/>
<rect x="271.6" y="66.4" width="1.2" height="1.2" fill="#e39a05"/>
<rect x="263.6" y="74.3" width="1.2" height="1.2" fill="#e39a05"/>
<rect x="273.6" y="63.0" width="1.2" height="1.2" fill="#e39a05"/>
<rect x="264.2" y="58.0" width="1.2" height="1.2" fill="#e39a05"/>
<rect x="276.8" y="72.3" width="1.2" height="1.2" fill="#e39a05"/>
<rect x="270.4" y="66.9" width="1.2" height="1.2" fill="#e39a05"/>
<rect x="262.0" y="66.5" width="1.2" height="1.2" fill="#e39a05"/>
<rect x="267.3" y="59.6" width="1.2" height="1.2" fill="#e39a05"/>
<rect x="269.1" y="62.8" width="1.2" height="1.2" fill="#e39a05"/>
<rect x="266.1" y="74.2" width="1.2" height="1.2" fill="#e39a05"/>
<rect x="275.9" y="84.1" width="1.2" height="1.2" fill="#e39a05"/>
<rect x="268.1" y="79.0" width="1.2" height="1.2" fill="#e39a05"/>
<rect x="262.5" y="72.5" width="1.2" height="1.2" fill="#e39a05"/>
<rect x="271.5" y="71.8" width="1.2" height="1.2" fill="#e39a05"/>
<rect x="273.6" y="84.6" width="1.2" height="1.2" fill="#e39a05"/>
<rect x="272.4" y="79.0" width="1.2" height="1.2" fill="#e39a05"/>
<rect x="261.2" y="55.1" width="1.2" height="1.2" fill="#e39a05"/>
<rect x="259.3" y="68.7" width="1.2" height="1.2" fill="#e39a05"/>
<rect x="264.1" y="62.5" width="1.2" height="1.2" fill="#e39a05"/>
<rect x="276.8" y="68.0" width="1.2" height="1.2" fill="#e39a05"/>
<rect x="264.8" y="60.2" width="1.2" height="1.2" fill="#e39a05"/>
<rect x="274.8" y="71.1" width="1.2" height="1.2" fill="#e39a05"/>
<rect x="269.9" y="85.9" width="1.2" height="1.2" fill="#e39a05"/>
<rect x="277.5" y="77.0" width="1.2" height="1.2" fill="#e39a05"/>
<rect x="265.6" y="54.9" width="1.2" height="1.2" fill="#e39a05"/>
<rect x="271.4" y="59.0" width="1.2" height="1.2" fill="#e39a05"/>
<rect x="265.3" y="58.2" width="1.2" height="1.2" fill="#e39a05"/>
<rect x="262.2" y="61.8" width="1.2" height="1.2" fill="#e39a05"/>
<rect x="269.3" y="72.4" width="1.2" height="1.2" fill="#e39a05"/>
<rect x="281.8" y="78.0" width="1.2" height="1.2" fill="#e39a05"/>
<rect x="280.2" y="76.5" width="1.2" height="1.2" fill="#e39a05"/>
<rect x="267.2" y="51.6" width="1.2" height="1.2" fill="#e39a05"/>
<rect x="268.9" y="59.3" width="1.2" height="1.2" fill="#e39a05"/>
<rect x="268.1" y="79.1" width="1.2" height="1.2" fill="#e39a05"/>
<rect x="280.1" y="77.0" width="1.2" height="1.2" fill="#e39a05"/>
<rect x="273.6" y="75.4" width="1.2" height="1.2" fill="#e39a05"/>
<rect x="278.4" y="78.9" width="1.2" height="1.2" fill="#e39a05"/>
<rect x="271.1" y="76.6" width="1.2" height="1.2" fill="#e39a05"/>
<rect x="267.1" y="60.5" width="1.2" height="1.2" fill="#e39a05"/>
<rect x="263.1" y="53.7" width="1.2" height="1.2" fill="#e39a05"/>
<rect x="267.4" y="67.7" width="1.2" height="1.2" fill="#e39a05"/>
<rect x="264.5" y="82.3" width="1.2" height="1.2" fill="#e39a05"/>
<rect x="275.5" y="79.1" width="1.2" height="1.2" fill="#e39a05"/>
<rect x="270.5" y="50.7" width="1.2" height="1.2" fill="#e39a05"/>
<rect x="262.2" y="72.7" width="1.2" height="1.2" fill="#e39a05"/>
<rect x="271.5" y="84.9" width="1.2" height="1.2" fill="#e39a05"/>
<rect x="269.5" y="49.5" width="1.2" height="1.2" fill="#e39a05"/>
<rect x="270.5" y="81.6" width="1.2" height="1.2" fill="#e39a05"/>
<rect x="273.1" y="77.8" width="1.2" height="1.2" fill="#e39a05"/>
<rect x="268.9" y="69.8" width="1.2" height="1.2" fill="#e39a05"/>
<rect x="272.6" y="63.2" width="1.2" height="1.2" fill="#e39a05"/>
<rect x="274.4" y="82.6" width="1.2" height="1.2" fill="#e39a05"/>
<rect x="263.8" y="64.1" width="1.2" height="1.2" fill="#e39a05"/>
<rect x="276.1" y="77.1" width="1.2" height="1.2" fill="#e39a05"/>
<rect x="276.5" y="67.7" width="1.2" height="1.2" fill="#e39a05"/>
<rect x="258.3" y="60.1" width="1.2" height="1.2" fill="#e39a05"/>
<rect x="276.2" y="76.2" width="1.2" height="1.2" fill="#e39a05"/>
<rect x="272.2" y="70.7" width="1.2" height="1.2" fill="#e39a05"/>
<rect x="268.0" y="56.9" width="1.2" height="1.2" fill="#e39a05"/>
<rect x="268.5" y="53.7" width="1.2" height="1.2" fill="#e39a05"/>
<rect x="278.3" y="79.7" width="1.2" height="1.2" fill="#e39a05"/>
<rect x="277.3" y="75.6" width="1.2" height="1.2" fill="#e39a05"/>
<rect x="264.7" y="67.4" width="1.2" height="1.2" fill="#e39a05"/>
<rect x="277.8" y="82.0" width="1.2" height="1.2" fill="#e39a05"/>
<rect x="257.4" y="57.1" width="1.2" height="1.2" fill="#e39a05"/>
<rect x="276.0" y="64.2" width="1.2" height="1.2" fill="#e39a05"/>
<rect x="277.0" y="82.0" width="1.2" height="1.2" fill="#e39a05"/>
<rect x="262.4" y="55.1" width="1.2" height="1.2" fill="#e39a05"/>
<rect x="258.7" y="54.1" width="1.2" height="1.2" fill="#e39a05"/>
<rect x="270.3" y="86.5" width="1.2" height="1.2" fill="#e39a05"/>
<rect x="257.1" y="53.7" width="1.2" height="1.2" fill="#e39a05"/>
<rect x="270.3" y="57.0" width="1.2" height="1.2" fill="#e39a05"/>
<rect x="277.0" y="78.4" width="1.2" height="1.2" fill="#e39a05"/>
<rect x="272.0" y="74.8" width="1.2" height="1.2" fill="#e39a05"/>
<rect x="271.0" y="84.7" width="1.2" height="1.2" fill="#e39a05"/>
<rect x="263.4" y="75.5" width="1.2" height="1.2" fill="#e39a05"/>
<rect x="269.8" y="78.1" width="1.2" height="1.2" fill="#e39a05"/>
<rect x="262.7" y="54.5" width="1.2" height="1.2" fill="#e39a05"/>
<rect x="271.3" y="75.5" width="1.2" height="1.2" fill="#e39a05"/>
<rect x="268.2" y="73.1" width="1.2" height="1.2" fill="#e39a05"/>
<rect x="272.2" y="77.7" width="1.2" height="1.2" fill="#e39a05"/>
<rect x="269.6" y="61.7" width="1.2" height="1.2" fill="#e39a05"/>
<rect x="276.0" y="78.8" width="1.2" height="1.2" fill="#e39a05"/>
<rect x="280.4" y="76.0" width="1.2" height="1.2" fill="#e39a05"/>
<rect x="272.0" y="82.2" width="1.2" height="1.2" fill="#e39a05"/>
<rect x="276.0" y="80.1" width="1.2" height="1.2" fill="#e39a05"/>
<rect x="257.3" y="63.6" width="1.2" height="1.2" fill="#e39a05"/>
<rect x="280.5" y="79.6" width="1.2" height="1.2" fill="#e39a05"/>
<rect x="278.2" y="78.3" width="1.2" height="1.2" fill="#e39a05"/>
<rect x="277.9" y="74.7" width="1.2" height="1.2" fill="#e39a05"/>
<rect x="260.2" y="54.8" width="1.2" height="1.2" fill="#e39a05"/>
<rect x="268.0" y="77.8" width="1.2" height="1.2" fill="#e39a05"/>
<rect x="272.5" y="73.5" width="1.2" height="1.2" fill="#e39a05"/>
<rect x="268.6" y="76.9" width="1.2" height="1.2" fill="#e39a05"/>
<rect x="266.5" y="80.0" width="1.2" height="1.2" fill="#e39a05"/>
<rect x="276.1" y="80.2" width="1.2" height="1.2" fill="#e39a05"/>
<rect x="270.1" y="71.7" width="1.2" height="1.2" fill="#e39a05"/>
<rect x="265.9" y="77.3" width="1.2" height="1.2" fill="#e39a05"/>
<rect x="267.9" y="69.4" width="1.2" height="1.2" fill="#e39a05"/>
<rect x="276.4" y="62.0" width="1.2" height="1.2" fill="#e39a05"/>
<rect x="268.8" y="54.8" width="1.2" height="1.2" fill="#e39a05"/>
<rect x="265.9" y="52.7" width="1.2" height="1.2" fill="#e39a05"/>
<rect x="274.3" y="65.4" width="1.2" height="1.2" fill="#e39a05"/>
<rect x="274.0" y="63.7" width="1.2" height="1.2" fill="#e39a05"/>
<rect x="280.0" y="81.9" width="1.2" height="1.2" fill="#e39a05"/>
<rect x="260.6" y="59.4" width="1.2" height="1.2" fill="#e39a05"/>
<rect x="272.8" y="80.6" width="1.2" height="1.2" fill="#e39a05"/>
<rect x="269.6" y="51.0" width="1.2" height="1.2" fill="#e39a05"/>
<rect x="268.8" y="86.4" width="1.2" height="1.2" fill="#e39a05"/>
<rect x="276.7" y="81.7" width="1.2" height="1.2" fill="#e39a05"/>
<rect x="266.5" y="56.7" width="1.2" height="1.2" fill="#e39a05"/>
<rect x="258.9" y="55.2" width="1.2" height="1.2" fill="#e39a05"/>
<rect x="280.8" y="79.1" width="1.2" height="1.2" fill="#e39a05"/>
<rect x="274.9" y="71.6" width="1.2" height="1.2" fill="#e39a05"/>
<rect x="257.7" y="57.0" width="1.2" height="1.2" fill="#e39a05"/>
<rect x="268.3" y="59.8" width="1.2" height="1.2" fill="#e39a05"/>
<rect x="260.6" y="64.9" width="1.2" height="1.2" fill="#e39a05"/>
<rect x="264.7" y="57.8" width="1.2" height="1.2" fill="#e39a05"/>
<rect x="265.8" y="50.6" width="1.2" height="1.2" fill="#e39a05"/>
<rect x="267.4" y="86.6" width="1.2" height="1.2" fill="#e39a05"/>
<rect x="280.4" y="79.6" width="1.2" height="1.2" fill="#e39a05"/>
<rect x="268.7" y="83.6" width="1.2" height="1.2" fill="#e39a05"/>
<rect x="266.8" y="62.3" width="1.2" height="1.2" fill="#e39a05"/>
<rect x="266.8" y="55.9" width="1.2" height="1.2" fill="#e39a05"/>
<rect x="274.2" y="70.0" width="1.2" height="1.2" fill="#e39a05"/>
<rect x="264.7" y="67.1" width="1.2" height="1.2" fill="#e39a05"/>
<rect x="273.0" y="61.6" width="1.2" height="1.2" fill="#e39a05"/>
<rect x="273.0" y="83.9" width="1.2" height="1.2" fill="#e39a05"/>
<rect x="266.7" y="83.1" width="1.2" height="1.2" fill="#e39a05"/>
<rect x="266.1" y="61.8" width="1.2" height="1.2" fill="#e39a05"/>
<rect x="274.9" y="85.1" width="1.2" height="1.2" fill="#e39a05"/>
<rect x="260.3" y="63.2" width="1.2" height="1.2" fill="#e39a05"/>
<rect x="270.3" y="60.1" width="1.2" height="1.2" fill="#e39a05"/>
<rect x="272.1" y="61.2" width="1.2" height="1.2" fill="#e39a05"/>
<rect x="275.1" y="68.0" width="1.2" height="1.2" fill="#e39a05"/>
<rect x="271.8" y="56.4" width="1.2" height="1.2" fill="#e39a05"/>
<rect x="267.3" y="78.3" width="1.2" height="1.2" fill="#e39a05"/>
<rect x="256.5" y="56.3" width="1.2" height="1.2" fill="#e39a05"/>
<rect x="260.9" y="58.9" width="1.2" height="1.2" fill="#e39a05"/>
<rect x="275.3" y="69.5" width="1.2" height="1.2" fill="#e39a05"/>
<rect x="271.7" y="63.6" width="1.2" height="1.2" fill="#e39a05"/>
<rect x="272.9" y="59.7" width="1.2" height="1.2" fill="#e39a05"/>
<rect x="263.8" y="51.7" width="1.2" height="1.2" fill="#e39a05"/>
<rect x="272.8" y="59.8" width="1.2" height="1.2" fill="#e39a05"/>
<rect x="262.1" y="58.6" width="1.2" height="1.2" fill="#e39a05"/>
<rect x="260.6" y="71.9" width="1.2" height="1.2" fill="#e39a05"/>
<rect x="266.4" y="75.9" width="1.2" height="1.2" fill="#e39a05"/>
<rect x="267.9" y="77.0" width="1.2" height="1.2" fill="#e39a05"/>
<rect x="267.7" y="82.6" width="1.2" height="1.2" fill="#e39a05"/>
<rect x="269.6" y="69.0" width="1.2" height="1.2" fill="#e39a05"/>
<rect x="273.3" y="56.8" width="1.2" height="1.2" fill="#e39a05"/>
<rect x="269.5" y="80.1" width="1.2" height="1.2" fill="#e39a05"/>
<rect x="269.6" y="57.1" width="1.2" height="1.2" fill="#e39a05"/>
<rect x="270.6" y="68.1" width="1.2" height="1.2" fill="#e39a05"/>
<rect x="278.2" y="73.4" width="1.2" height="1.2" fill="#e39a05"/>
<rect x="269.0" y="68.6" width="1.2" height="1.2" fill="#e39a05"/>
<rect x="261.8" y="55.8" width="1.2" height="1.2" fill="#e39a05"/>
<rect x="264.4" y="72.0" width="1.2" height="1.2" fill="#e39a05"/>
<rect x="279.2" y="81.3" width="1.2" height="1.2" fill="#e39a05"/>
<rect x="273.4" y="68.3" width="1.2" height="1.2" fill="#e39a05"/>
<rect x="271.6" y="62.0" width="1.2" height="1.2" fill="#e39a05"/>
<rect x="274.7" y="82.7" width="1.2" height="1.2" fill="#e39a05"/>
<rect x="279.4" y="78.2" width="1.2" height="1.2" fill="#e39a05"/>
<rect x="281.9" y="80.8" width="1.2" height="1.2" fill="#e39a05"/>
<rect x="269.3" y="62.9" width="1.2" height="1.2" fill="#e39a05"/>
<rect x="268.6" y="68.7" width="1.2" height="1.2" fill="#e39a05"/>
<rect x="281.2" y="74.3" width="1.2" height="1.2" fill="#e39a05"/>
<rect x="279.1" y="79.0" width="1.2" height="1.2" fill="#e39a05"/>
<rect x="268.2" y="59.1" width="1.2" height="1.2" fill="#e39a05"/>
<rect x="274.7" y="81.5" width="1.2" height="1.2" fill="#e39a05"/>
<rect x="269.3" y="65.6" width="1.2" height="1.2" fill="#e39a05"/>
<rect x="268.7" y="74.8" width="1.2" height="1.2" fill="#e39a05"/>
<rect x="276.5" y="67.0" width="1.2" height="1.2" fill="#e39a05"/>
<rect x="265.6" y="56.7" width="1.2" height="1.2" fill="#e39a05"/>
<rect x="264.5" y="66.8" width="1.2" height="1.2" fill="#e39a05"/>
<rect x="263.7" y="71.0" width="1.2" height="1.2" fill="#e39a05"/>
<rect x="272.5" y="73.9" width="1.2" height="1.2" fill="#e39a05"/>
<rect x="268.4" y="69.4" width="1.2" height="1.2" fill="#e39a05"/>
<rect x="263.1" y="61.6" width="1.2" height="1.2" fill="#e39a05"/>
<rect x="269.1" y="71.7" width="1.2" height="1.2" fill="#e39a05"/>
<rect x="270.8" y="57.2" width="1.2" height="1.2" fill="#e39a05"/>
<rect x="271.4" y="86.7" width="1.2" height="1.2" fill="#e39a05"/>
<rect x="258.9" y="55.1" width="1.2" height="1.2" fill="#e39a05"/>
<rect x="259.5" y="67.3" width="1.2" height="1.2" fill="#e39a05"/>
<rect x="260.7" y="60.9" width="1.2" height="1.2" fill="#e39a05"/>
<rect x="260.9" y="65.6" width="1.2" height="1.2" fill="#e39a05"/>
<rect x="275.8" y="78.2" width="1.2" height="1.2" fill="#e39a05"/>
<rect x="276.1" y="74.0" width="1.2" height="1.2" fill="#e39a05"/>
<rect x="286.9" y="79.0" width="1.1" height="1.1" fill="#ebbd45"/>
<rect x="278.3" y="53.9" width="1.1" height="1.1" fill="#ebbd45"/>
<rect x="284.1" y="88.3" width="1.1" height="1.1" fill="#ebbd45"/>
<rect x="288.2" y="84.3" width="1.1" height="1.1" fill="#ebbd45"/>
<rect x="276.9" y="71.0" width="1.1" height="1.1" fill="#ebbd45"/>
<rect x="276.7" y="75.6" width="1.1" height="1.1" fill="#ebbd45"/>
<rect x="287.6" y="84.0" width="1.1" height="1.1" fill="#ebbd45"/>
<rect x="270.7" y="68.1" width="1.1" height="1.1" fill="#ebbd45"/>
<rect x="274.8" y="58.4" width="1.1" height="1.1" fill="#ebbd45"/>
<rect x="289.9" y="83.3" width="1.1" height="1.1" fill="#ebbd45"/>
<rect x="283.1" y="87.1" width="1.1" height="1.1" fill="#ebbd45"/>
<rect x="280.8" y="72.0" width="1.1" height="1.1" fill="#ebbd45"/>
<rect x="285.2" y="89.7" width="1.1" height="1.1" fill="#ebbd45"/>
<rect x="279.6" y="69.5" width="1.1" height="1.1" fill="#ebbd45"/>
<rect x="281.6" y="87.8" width="1.1" height="1.1" fill="#ebbd45"/>
<rect x="268.6" y="70.5" width="1.1" height="1.1" fill="#ebbd45"/>
<rect x="286.0" y="85.4" width="1.1" height="1.1" fill="#ebbd45"/>
<rect x="279.9" y="77.3" width="1.1" height="1.1" fill="#ebbd45"/>
<rect x="283.7" y="84.2" width="1.1" height="1.1" fill="#ebbd45"/>
<rect x="291.2" y="82.6" width="1.1" height="1.1" fill="#ebbd45"/>
<rect x="289.3" y="76.0" width="1.1" height="1.1" fill="#ebbd45"/>
<rect x="284.7" y="69.6" width="1.1" height="1.1" fill="#ebbd45"/>
<rect x="278.9" y="73.6" width="1.1" height="1.1" fill="#ebbd45"/>
<rect x="280.7" y="78.1" width="1.1" height="1.1" fill="#ebbd45"/>
<rect x="273.3" y="57.7" width="1.1" height="1.1" fill="#ebbd45"/>
<rect x="278.3" y="80.0" width="1.1" height="1.1" fill="#ebbd45"/>
<rect x="285.6" y="74.4" width="1.1" height="1.1" fill="#ebbd45"/>
<rect x="279.0" y="75.9" width="1.1" height="1.1" fill="#ebbd45"/>
<rect x="285.2" y="89.4" width="1.1" height="1.1" fill="#ebbd45"/>
<rect x="266.9" y="62.0" width="1.1" height="1.1" fill="#ebbd45"/>
<rect x="265.2" y="62.7" width="1.1" height="1.1" fill="#ebbd45"/>
<rect x="284.9" y="83.1" width="1.1" height="1.1" fill="#ebbd45"/>
<rect x="280.7" y="65.4" width="1.1" height="1.1" fill="#ebbd45"/>
<rect x="270.6" y="67.0" width="1.1" height="1.1" fill="#ebbd45"/>
<rect x="277.1" y="67.8" width="1.1" height="1.1" fill="#ebbd45"/>
<rect x="274.1" y="86.6" width="1.1" height="1.1" fill="#ebbd45"/>
<rect x="279.0" y="77.5" width="1.1" height="1.1" fill="#ebbd45"/>
<rect x="290.5" y="85.3" width="1.1" height="1.1" fill="#ebbd45"/>
<rect x="279.8" y="64.1" width="1.1" height="1.1" fill="#ebbd45"/>
<rect x="284.7" y="89.0" width="1.1" height="1.1" fill="#ebbd45"/>
<rect x="277.9" y="64.3" width="1.1" height="1.1" fill="#ebbd45"/>
<rect x="282.3" y="83.4" width="1.1" height="1.1" fill="#ebbd45"/>
<rect x="272.2" y="62.6" width="1.1" height="1.1" fill="#ebbd45"/>
<rect x="273.4" y="59.5" width="1.1" height="1.1" fill="#ebbd45"/>
<rect x="271.7" y="59.5" width="1.1" height="1.1" fill="#ebbd45"/>
<rect x="272.4" y="65.3" width="1.1" height="1.1" fill="#ebbd45"/>
<rect x="266.8" y="57.3" width="1.1" height="1.1" fill="#ebbd45"/>
<rect x="275.7" y="81.3" width="1.1" height="1.1" fill="#ebbd45"/>
<rect x="277.8" y="59.8" width="1.1" height="1.1" fill="#ebbd45"/>
<rect x="278.4" y="61.5" width="1.1" height="1.1" fill="#ebbd45"/>
<rect x="283.2" y="90.8" width="1.1" height="1.1" fill="#ebbd45"/>
<rect x="274.3" y="63.8" width="1.1" height="1.1" fill="#ebbd45"/>
<rect x="279.7" y="63.6" width="1.1" height="1.1" fill="#ebbd45"/>
<rect x="272.1" y="64.4" width="1.1" height="1.1" fill="#ebbd45"/>
<rect x="278.9" y="58.9" width="1.1" height="1.1" fill="#ebbd45"/>
<rect x="277.2" y="83.7" width="1.1" height="1.1" fill="#ebbd45"/>
<rect x="276.8" y="66.5" width="1.1" height="1.1" fill="#ebbd45"/>
<rect x="277.0" y="86.9" width="1.1" height="1.1" fill="#ebbd45"/>
<rect x="271.7" y="77.0" width="1.1" height="1.1" fill="#ebbd45"/>
<rect x="268.5" y="59.3" width="1.1" height="1.1" fill="#ebbd45"/>
<rect x="274.6" y="82.2" width="1.1" height="1.1" fill="#ebbd45"/>
<rect x="290.8" y="80.0" width="1.1" height="1.1" fill="#ebbd45"/>
<rect x="269.9" y="66.7" width="1.1" height="1.1" fill="#ebbd45"/>
<rect x="278.3" y="68.0" width="1.1" height="1.1" fill="#ebbd45"/>
<rect x="278.9" y="63.2" width="1.1" height="1.1" fill="#ebbd45"/>
<rect x="277.6" y="62.9" width="1.1" height="1.1" fill="#ebbd45"/>
<rect x="285.9" y="79.5" width="1.1" height="1.1" fill="#ebbd45"/>
<rect x="267.9" y="64.4" width="1.1" height="1.1" fill="#ebbd45"/>
<rect x="267.2" y="67.5" width="1.1" height="1.1" fill="#ebbd45"/>
<rect x="285.4" y="73.7" width="1.1" height="1.1" fill="#ebbd45"/>
<rect x="279.8" y="79.4" width="1.1" height="1.1" fill="#ebbd45"/>
<rect x="288.3" y="81.6" width="1.1" height="1.1" fill="#ebbd45"/>
<rect x="286.9" y="75.7" width="1.1" height="1.1" fill="#ebbd45"/>
<rect x="276.0" y="85.7" width="1.1" height="1.1" fill="#ebbd45"/>
<rect x="276.9" y="57.4" width="1.1" height="1.1" fill="#ebbd45"/>
<rect x="287.4" y="83.7" width="1.1" height="1.1" fill="#ebbd45"/>
<rect x="286.5" y="68.5" width="1.1" height="1.1" fill="#ebbd45"/>
<rect x="286.8" y="82.8" width="1.1" height="1.1" fill="#ebbd45"/>
<rect x="272.3" y="81.4" width="1.1" height="1.1" fill="#ebbd45"/>
<rect x="281.0" y="58.8" width="1.1" height="1.1" fill="#ebbd45"/>
<rect x="286.3" y="83.7" width="1.1" height="1.1" fill="#ebbd45"/>
<rect x="288.2" y="76.1" width="1.1" height="1.1" fill="#ebbd45"/>
<rect x="268.1" y="69.7" width="1.1" height="1.1" fill="#ebbd45"/>
<rect x="269.6" y="60.0" width="1.1" height="1.1" fill="#ebbd45"/>
<rect x="269.3" y="64.9" width="1.1" height="1.1" fill="#ebbd45"/>
<rect x="283.7" y="68.2" width="1.1" height="1.1" fill="#ebbd45"/>
<rect x="272.2" y="77.4" width="1.1" height="1.1" fill="#ebbd45"/>
<rect x="283.5" y="82.7" width="1.1" height="1.1" fill="#ebbd45"/>
<rect x="279.8" y="69.8" width="1.1" height="1.1" fill="#ebbd45"/>
<rect x="268.2" y="67.4" width="1.1" height="1.1" fill="#ebbd45"/>
<rect x="267.9" y="68.0" width="1.1" height="1.1" fill="#ebbd45"/>
<rect x="271.7" y="60.8" width="1.1" height="1.1" fill="#ebbd45"/>
<rect x="271.4" y="62.1" width="1.1" height="1.1" fill="#ebbd45"/>
<rect x="291.9" y="80.6" width="1.1" height="1.1" fill="#ebbd45"/>
<rect x="288.7" y="74.3" width="1.1" height="1.1" fill="#ebbd45"/>
<rect x="272.8" y="62.6" width="1.1" height="1.1" fill="#ebbd45"/>
<rect x="286.7" y="75.3" width="1.1" height="1.1" fill="#ebbd45"/>
<rect x="277.7" y="64.5" width="1.1" height="1.1" fill="#ebbd45"/>
<rect x="274.1" y="83.1" width="1.1" height="1.1" fill="#ebbd45"/>
<rect x="275.8" y="77.1" width="1.1" height="1.1" fill="#ebbd45"/>
<rect x="277.1" y="82.5" width="1.1" height="1.1" fill="#ebbd45"/>
<rect x="271.2" y="62.1" width="1.1" height="1.1" fill="#ebbd45"/>
<rect x="275.8" y="76.2" width="1.1" height="1.1" fill="#ebbd45"/>
<rect x="266.3" y="57.7" width="1.1" height="1.1" fill="#ebbd45"/>
<rect x="288.7" y="77.9" width="1.1" height="1.1" fill="#ebbd45"/>
<rect x="278.7" y="73.5" width="1.1" height="1.1" fill="#ebbd45"/>
<rect x="273.9" y="58.0" width="1.1" height="1.1" fill="#ebbd45"/>
<rect x="284.2" y="89.2" width="1.1" height="1.1" fill="#ebbd45"/>
<rect x="273.0" y="62.6" width="1.1" height="1.1" fill="#ebbd45"/>
<rect x="289.8" y="83.2" width="1.1" height="1.1" fill="#ebbd45"/>
<rect x="276.0" y="79.0" width="1.1" height="1.1" fill="#ebbd45"/>
<rect x="273.9" y="70.1" width="1.1" height="1.1" fill="#ebbd45"/>
<rect x="280.8" y="61.2" width="1.1" height="1.1" fill="#ebbd45"/>
<rect x="277.6" y="67.9" width="1.1" height="1.1" fill="#ebbd45"/>
<rect x="276.4" y="71.8" width="1.1" height="1.1" fill="#ebbd45"/>
<rect x="292.7" y="87.7" width="1.1" height="1.1" fill="#ebbd45"/>
<rect x="277.4" y="56.1" width="1.1" height="1.1" fill="#ebbd45"/>
<rect x="276.7" y="75.7" width="1.1" height="1.1" fill="#ebbd45"/>
<rect x="277.4" y="67.1" width="1.1" height="1.1" fill="#ebbd45"/>
<rect x="265.2" y="63.0" width="1.1" height="1.1" fill="#ebbd45"/>
<rect x="272.5" y="80.4" width="1.1" height="1.1" fill="#ebbd45"/>
<rect x="276.6" y="73.9" width="1.1" height="1.1" fill="#ebbd45"/>
<rect x="267.8" y="62.6" width="1.1" height="1.1" fill="#ebbd45"/>
<rect x="276.5" y="86.8" width="1.1" height="1.1" fill="#ebbd45"/>
<rect x="274.5" y="64.5" width="1.1" height="1.1" fill="#ebbd45"/>
<rect x="275.3" y="76.9" width="1.1" height="1.1" fill="#ebbd45"/>
<rect x="273.9" y="58.6" width="1.1" height="1.1" fill="#ebbd45"/>
<rect x="281.2" y="85.1" width="1.1" height="1.1" fill="#ebbd45"/>
<rect x="279.0" y="59.0" width="1.1" height="1.1" fill="#ebbd45"/>
<rect x="275.5" y="85.7" width="1.1" height="1.1" fill="#ebbd45"/>
<circle cx="349.1" cy="45.1" r="0.78" fill="#138a68"/>
<circle cx="335.8" cy="31.0" r="0.78" fill="#138a68"/>
<circle cx="297.1" cy="38.8" r="0.78" fill="#138a68"/>
<circle cx="281.1" cy="46.1" r="0.78" fill="#138a68"/>
<circle cx="295.3" cy="36.4" r="0.78" fill="#138a68"/>
<circle cx="330.9" cy="40.6" r="0.78" fill="#138a68"/>
<circle cx="344.0" cy="47.0" r="0.78" fill="#138a68"/>
<circle cx="342.8" cy="45.1" r="0.78" fill="#138a68"/>
<circle cx="292.1" cy="51.1" r="0.78" fill="#138a68"/>
<circle cx="304.6" cy="51.7" r="0.78" fill="#138a68"/>
<circle cx="329.0" cy="53.7" r="0.78" fill="#138a68"/>
<circle cx="288.8" cy="38.8" r="0.78" fill="#138a68"/>
<circle cx="323.5" cy="29.8" r="0.78" fill="#138a68"/>
<circle cx="319.5" cy="53.0" r="0.78" fill="#138a68"/>
<circle cx="328.6" cy="34.9" r="0.78" fill="#138a68"/>
<circle cx="293.9" cy="41.2" r="0.78" fill="#138a68"/>
<circle cx="340.3" cy="45.7" r="0.78" fill="#138a68"/>
<circle cx="288.0" cy="52.9" r="0.78" fill="#138a68"/>
<circle cx="293.3" cy="44.8" r="0.78" fill="#138a68"/>
<circle cx="300.9" cy="49.2" r="0.78" fill="#138a68"/>
<circle cx="307.4" cy="31.3" r="0.78" fill="#138a68"/>
<circle cx="343.0" cy="44.3" r="0.78" fill="#138a68"/>
<circle cx="329.6" cy="53.2" r="0.78" fill="#138a68"/>
<circle cx="304.7" cy="31.5" r="0.78" fill="#138a68"/>
<circle cx="316.1" cy="55.3" r="0.78" fill="#138a68"/>
<circle cx="293.1" cy="53.5" r="0.78" fill="#138a68"/>
<circle cx="328.9" cy="39.5" r="0.78" fill="#138a68"/>
<circle cx="314.3" cy="31.7" r="0.78" fill="#138a68"/>
<circle cx="340.8" cy="39.5" r="0.78" fill="#138a68"/>
<circle cx="342.9" cy="46.7" r="0.78" fill="#138a68"/>
<circle cx="285.5" cy="37.4" r="0.78" fill="#138a68"/>
<circle cx="295.6" cy="56.0" r="0.78" fill="#138a68"/>
<circle cx="322.4" cy="27.9" r="0.78" fill="#138a68"/>
<circle cx="292.2" cy="38.4" r="0.78" fill="#138a68"/>
<circle cx="313.7" cy="45.5" r="0.78" fill="#138a68"/>
<circle cx="307.9" cy="38.2" r="0.78" fill="#138a68"/>
<circle cx="313.1" cy="59.1" r="0.78" fill="#138a68"/>
<circle cx="328.3" cy="35.5" r="0.78" fill="#138a68"/>
<circle cx="299.7" cy="43.0" r="0.78" fill="#138a68"/>
<circle cx="298.9" cy="45.3" r="0.78" fill="#138a68"/>
<circle cx="318.0" cy="58.1" r="0.78" fill="#138a68"/>
<circle cx="320.4" cy="51.9" r="0.78" fill="#138a68"/>
<circle cx="342.8" cy="52.1" r="0.78" fill="#138a68"/>
<circle cx="325.6" cy="47.4" r="0.78" fill="#138a68"/>
<circle cx="306.1" cy="35.8" r="0.78" fill="#138a68"/>
<circle cx="337.3" cy="55.3" r="0.78" fill="#138a68"/>
<circle cx="347.6" cy="49.0" r="0.78" fill="#138a68"/>
<circle cx="301.9" cy="51.7" r="0.78" fill="#138a68"/>
<circle cx="333.2" cy="43.3" r="0.78" fill="#138a68"/>
<circle cx="325.7" cy="38.1" r="0.78" fill="#138a68"/>
<circle cx="319.7" cy="39.9" r="0.78" fill="#138a68"/>
<circle cx="284.4" cy="37.6" r="0.78" fill="#138a68"/>
<circle cx="314.7" cy="38.6" r="0.78" fill="#138a68"/>
<circle cx="297.5" cy="34.2" r="0.78" fill="#138a68"/>
<circle cx="305.1" cy="31.0" r="0.78" fill="#138a68"/>
<circle cx="312.6" cy="41.2" r="0.78" fill="#138a68"/>
<circle cx="320.9" cy="36.5" r="0.78" fill="#138a68"/>
<circle cx="301.7" cy="36.7" r="0.78" fill="#138a68"/>
<circle cx="332.3" cy="44.7" r="0.78" fill="#138a68"/>
<circle cx="347.5" cy="37.7" r="0.78" fill="#138a68"/>
<circle cx="346.3" cy="45.8" r="0.78" fill="#138a68"/>
<circle cx="321.8" cy="59.1" r="0.78" fill="#138a68"/>
<circle cx="305.7" cy="52.1" r="0.78" fill="#138a68"/>
<circle cx="310.8" cy="55.2" r="0.78" fill="#138a68"/>
<circle cx="284.9" cy="42.5" r="0.78" fill="#138a68"/>
<circle cx="344.7" cy="35.6" r="0.78" fill="#138a68"/>
<circle cx="291.8" cy="35.3" r="0.78" fill="#138a68"/>
<circle cx="330.7" cy="33.7" r="0.78" fill="#138a68"/>
<circle cx="308.8" cy="33.1" r="0.78" fill="#138a68"/>
<circle cx="323.4" cy="55.0" r="0.78" fill="#138a68"/>
<circle cx="326.7" cy="33.0" r="0.78" fill="#138a68"/>
<circle cx="323.3" cy="29.1" r="0.78" fill="#138a68"/>
<circle cx="338.3" cy="55.4" r="0.78" fill="#138a68"/>
<circle cx="304.6" cy="31.0" r="0.78" fill="#138a68"/>
<circle cx="293.5" cy="44.2" r="0.78" fill="#138a68"/>
<circle cx="343.0" cy="47.6" r="0.78" fill="#138a68"/>
<circle cx="303.5" cy="51.2" r="0.78" fill="#138a68"/>
<circle cx="326.7" cy="39.9" r="0.78" fill="#138a68"/>
<circle cx="328.9" cy="37.6" r="0.78" fill="#138a68"/>
<circle cx="284.1" cy="40.2" r="0.78" fill="#138a68"/>
<circle cx="283.3" cy="47.2" r="0.78" fill="#138a68"/>
<circle cx="304.1" cy="42.8" r="0.78" fill="#138a68"/>
<circle cx="323.0" cy="35.0" r="0.78" fill="#138a68"/>
<circle cx="313.4" cy="26.9" r="0.78" fill="#138a68"/>
<circle cx="346.6" cy="45.1" r="0.78" fill="#138a68"/>
<circle cx="324.2" cy="50.4" r="0.78" fill="#138a68"/>
<circle cx="303.7" cy="29.6" r="0.78" fill="#138a68"/>
<circle cx="291.2" cy="31.2" r="0.78" fill="#138a68"/>
<circle cx="335.2" cy="29.5" r="0.78" fill="#138a68"/>
<circle cx="338.6" cy="40.5" r="0.78" fill="#138a68"/>
<circle cx="318.8" cy="45.9" r="0.78" fill="#138a68"/>
<circle cx="320.0" cy="48.2" r="0.78" fill="#138a68"/>
<circle cx="323.3" cy="37.4" r="0.78" fill="#138a68"/>
<circle cx="333.4" cy="35.0" r="0.78" fill="#138a68"/>
<circle cx="331.2" cy="51.7" r="0.78" fill="#138a68"/>
<circle cx="335.9" cy="36.7" r="0.78" fill="#138a68"/>
<circle cx="312.6" cy="35.7" r="0.78" fill="#138a68"/>
<circle cx="317.7" cy="57.6" r="0.78" fill="#138a68"/>
<circle cx="314.3" cy="48.1" r="0.78" fill="#138a68"/>
<circle cx="335.7" cy="38.5" r="0.78" fill="#138a68"/>
<circle cx="334.5" cy="29.5" r="0.78" fill="#138a68"/>
<circle cx="284.3" cy="43.1" r="0.78" fill="#138a68"/>
<circle cx="320.0" cy="32.5" r="0.78" fill="#138a68"/>
<circle cx="347.7" cy="38.6" r="0.78" fill="#138a68"/>
<circle cx="290.8" cy="32.4" r="0.78" fill="#138a68"/>
<circle cx="333.1" cy="56.9" r="0.78" fill="#138a68"/>
<circle cx="336.0" cy="34.5" r="0.78" fill="#138a68"/>
<circle cx="350.7" cy="43.0" r="0.78" fill="#138a68"/>
<circle cx="325.8" cy="37.9" r="0.78" fill="#138a68"/>
<circle cx="337.6" cy="41.7" r="0.78" fill="#138a68"/>
<circle cx="303.3" cy="56.3" r="0.78" fill="#138a68"/>
<circle cx="287.8" cy="50.7" r="0.78" fill="#138a68"/>
<circle cx="284.7" cy="47.8" r="0.78" fill="#138a68"/>
<circle cx="308.9" cy="55.0" r="0.78" fill="#138a68"/>
<circle cx="284.3" cy="45.1" r="0.78" fill="#138a68"/>
<circle cx="309.5" cy="56.8" r="0.78" fill="#138a68"/>
<circle cx="348.0" cy="47.2" r="0.78" fill="#138a68"/>
<circle cx="296.1" cy="34.8" r="0.78" fill="#138a68"/>
<circle cx="298.9" cy="40.8" r="0.78" fill="#138a68"/>
<circle cx="296.7" cy="33.2" r="0.78" fill="#138a68"/>
<circle cx="334.7" cy="47.7" r="0.78" fill="#138a68"/>
<circle cx="295.6" cy="45.3" r="0.78" fill="#138a68"/>
<circle cx="291.3" cy="55.0" r="0.78" fill="#138a68"/>
<circle cx="342.6" cy="35.3" r="0.78" fill="#138a68"/>
<circle cx="334.1" cy="53.7" r="0.78" fill="#138a68"/>
<circle cx="300.3" cy="37.4" r="0.78" fill="#138a68"/>
<circle cx="315.0" cy="55.9" r="0.78" fill="#138a68"/>
<circle cx="291.6" cy="49.0" r="0.78" fill="#138a68"/>
<circle cx="323.0" cy="41.5" r="0.78" fill="#138a68"/>
<circle cx="321.7" cy="55.6" r="0.78" fill="#138a68"/>
<circle cx="295.1" cy="55.7" r="0.78" fill="#138a68"/>
<circle cx="305.9" cy="52.2" r="0.78" fill="#138a68"/>
<circle cx="342.2" cy="32.5" r="0.78" fill="#138a68"/>
<circle cx="290.9" cy="50.8" r="0.78" fill="#138a68"/>
<circle cx="329.2" cy="29.5" r="0.78" fill="#138a68"/>
<circle cx="304.4" cy="56.8" r="0.78" fill="#138a68"/>
<circle cx="331.6" cy="55.6" r="0.78" fill="#138a68"/>
<circle cx="296.9" cy="52.6" r="0.78" fill="#138a68"/>
<circle cx="329.6" cy="27.7" r="0.78" fill="#138a68"/>
<circle cx="316.3" cy="34.1" r="0.78" fill="#138a68"/>
<circle cx="311.0" cy="30.0" r="0.78" fill="#138a68"/>
<circle cx="302.8" cy="55.5" r="0.78" fill="#138a68"/>
<circle cx="288.7" cy="42.6" r="0.78" fill="#138a68"/>
<circle cx="289.8" cy="40.6" r="0.78" fill="#138a68"/>
<circle cx="292.9" cy="49.1" r="0.78" fill="#138a68"/>
<circle cx="290.7" cy="50.9" r="0.78" fill="#138a68"/>
<circle cx="316.1" cy="30.2" r="0.78" fill="#138a68"/>
<circle cx="305.5" cy="42.9" r="0.78" fill="#138a68"/>
<circle cx="346.1" cy="38.0" r="0.78" fill="#138a68"/>
<circle cx="343.6" cy="50.6" r="0.78" fill="#138a68"/>
<circle cx="299.7" cy="32.3" r="0.78" fill="#138a68"/>
<circle cx="299.1" cy="28.8" r="0.78" fill="#138a68"/>
<circle cx="283.1" cy="43.3" r="0.78" fill="#138a68"/>
<circle cx="309.4" cy="44.9" r="0.78" fill="#138a68"/>
<circle cx="329.5" cy="48.1" r="0.78" fill="#138a68"/>
<circle cx="319.2" cy="44.6" r="0.78" fill="#138a68"/>
<circle cx="342.9" cy="50.2" r="0.78" fill="#138a68"/>
<circle cx="308.7" cy="37.0" r="0.78" fill="#138a68"/>
<circle cx="310.2" cy="58.6" r="0.78" fill="#138a68"/>
<circle cx="307.9" cy="39.2" r="0.78" fill="#138a68"/>
<circle cx="309.5" cy="31.2" r="0.78" fill="#138a68"/>
<circle cx="323.8" cy="57.1" r="0.78" fill="#138a68"/>
<circle cx="298.3" cy="46.7" r="0.78" fill="#138a68"/>
<circle cx="307.1" cy="34.4" r="0.78" fill="#138a68"/>
<circle cx="294.3" cy="30.3" r="0.78" fill="#138a68"/>
<circle cx="340.7" cy="52.4" r="0.78" fill="#138a68"/>
<circle cx="330.0" cy="37.2" r="0.78" fill="#138a68"/>
<circle cx="326.5" cy="44.6" r="0.78" fill="#138a68"/>
<circle cx="341.5" cy="43.3" r="0.78" fill="#138a68"/>
<circle cx="296.9" cy="47.3" r="0.78" fill="#138a68"/>
<circle cx="333.5" cy="39.0" r="0.78" fill="#138a68"/>
<circle cx="331.3" cy="39.5" r="0.78" fill="#138a68"/>
<circle cx="317.9" cy="46.7" r="0.78" fill="#138a68"/>
<circle cx="328.8" cy="37.1" r="0.78" fill="#138a68"/>
<circle cx="325.3" cy="44.4" r="0.78" fill="#138a68"/>
<circle cx="296.1" cy="46.7" r="0.78" fill="#138a68"/>
<circle cx="299.1" cy="56.5" r="0.78" fill="#138a68"/>
<circle cx="314.1" cy="50.3" r="0.78" fill="#138a68"/>
<circle cx="317.6" cy="42.2" r="0.78" fill="#138a68"/>
<circle cx="295.9" cy="31.2" r="0.78" fill="#138a68"/>
<circle cx="346.8" cy="43.9" r="0.78" fill="#138a68"/>
<circle cx="317.7" cy="43.9" r="0.78" fill="#138a68"/>
<circle cx="338.6" cy="34.4" r="0.78" fill="#138a68"/>
<circle cx="292.4" cy="53.6" r="0.78" fill="#138a68"/>
<circle cx="313.1" cy="47.6" r="0.78" fill="#138a68"/>
<circle cx="307.5" cy="54.0" r="0.78" fill="#138a68"/>
<circle cx="338.9" cy="30.6" r="0.78" fill="#138a68"/>
<circle cx="291.1" cy="34.8" r="0.78" fill="#138a68"/>
<circle cx="287.4" cy="38.3" r="0.78" fill="#138a68"/>
<circle cx="337.8" cy="43.7" r="0.78" fill="#138a68"/>
<circle cx="312.6" cy="29.4" r="0.78" fill="#138a68"/>
<circle cx="330.0" cy="41.3" r="0.78" fill="#138a68"/>
<circle cx="314.4" cy="52.8" r="0.78" fill="#138a68"/>
<circle cx="334.6" cy="31.4" r="0.78" fill="#138a68"/>
<circle cx="329.0" cy="38.6" r="0.78" fill="#138a68"/>
<circle cx="317.5" cy="34.3" r="0.78" fill="#138a68"/>
<circle cx="306.7" cy="37.7" r="0.78" fill="#138a68"/>
<circle cx="307.4" cy="27.1" r="0.78" fill="#138a68"/>
<circle cx="294.5" cy="45.3" r="0.78" fill="#138a68"/>
<circle cx="331.7" cy="35.6" r="0.78" fill="#138a68"/>
<circle cx="303.3" cy="34.5" r="0.78" fill="#138a68"/>
<circle cx="325.8" cy="54.8" r="0.78" fill="#138a68"/>
<circle cx="294.5" cy="40.5" r="0.78" fill="#138a68"/>
<circle cx="337.0" cy="46.9" r="0.78" fill="#138a68"/>
<circle cx="306.8" cy="27.9" r="0.78" fill="#138a68"/>
<circle cx="311.9" cy="38.6" r="0.78" fill="#138a68"/>
<circle cx="331.3" cy="36.2" r="0.78" fill="#138a68"/>
<circle cx="309.4" cy="47.9" r="0.78" fill="#138a68"/>
<circle cx="338.4" cy="38.1" r="0.78" fill="#138a68"/>
<circle cx="307.7" cy="45.6" r="0.78" fill="#138a68"/>
<circle cx="306.8" cy="48.5" r="0.78" fill="#138a68"/>
<circle cx="303.7" cy="28.8" r="0.78" fill="#138a68"/>
<circle cx="334.4" cy="39.0" r="0.78" fill="#138a68"/>
<circle cx="317.9" cy="42.9" r="0.78" fill="#138a68"/>
<circle cx="344.9" cy="51.5" r="0.78" fill="#138a68"/>
<circle cx="281.8" cy="46.1" r="0.78" fill="#138a68"/>
<circle cx="313.3" cy="41.8" r="0.78" fill="#138a68"/>
<circle cx="340.4" cy="40.2" r="0.78" fill="#138a68"/>
<circle cx="314.1" cy="55.9" r="0.78" fill="#138a68"/>
<circle cx="311.7" cy="42.7" r="0.78" fill="#138a68"/>
<circle cx="327.8" cy="66.3" r="0.68" fill="#2a2a2a"/>
<circle cx="341.8" cy="50.7" r="0.68" fill="#2a2a2a"/>
<circle cx="348.9" cy="70.0" r="0.68" fill="#2a2a2a"/>
<circle cx="345.0" cy="54.2" r="0.68" fill="#2a2a2a"/>
<circle cx="354.7" cy="47.6" r="0.68" fill="#2a2a2a"/>
<circle cx="358.8" cy="73.7" r="0.68" fill="#2a2a2a"/>
<circle cx="373.2" cy="78.3" r="0.68" fill="#2a2a2a"/>
<circle cx="356.5" cy="71.1" r="0.68" fill="#2a2a2a"/>
<circle cx="352.3" cy="52.5" r="0.68" fill="#2a2a2a"/>
<circle cx="370.5" cy="74.1" r="0.68" fill="#2a2a2a"/>
<circle cx="348.4" cy="54.6" r="0.68" fill="#2a2a2a"/>
<circle cx="370.8" cy="74.2" r="0.68" fill="#2a2a2a"/>
<circle cx="337.0" cy="75.8" r="0.68" fill="#2a2a2a"/>
<circle cx="376.0" cy="67.7" r="0.68" fill="#2a2a2a"/>
<circle cx="357.1" cy="63.2" r="0.68" fill="#2a2a2a"/>
<circle cx="344.1" cy="80.5" r="0.68" fill="#2a2a2a"/>
<circle cx="350.4" cy="77.2" r="0.68" fill="#2a2a2a"/>
<circle cx="348.2" cy="76.5" r="0.68" fill="#2a2a2a"/>
<circle cx="362.5" cy="56.2" r="0.68" fill="#2a2a2a"/>
<circle cx="338.5" cy="67.1" r="0.68" fill="#2a2a2a"/>
<circle cx="362.5" cy="71.2" r="0.68" fill="#2a2a2a"/>
<circle cx="367.7" cy="52.0" r="0.68" fill="#2a2a2a"/>
<circle cx="358.2" cy="60.7" r="0.68" fill="#2a2a2a"/>
<circle cx="353.3" cy="71.7" r="0.68" fill="#2a2a2a"/>
<circle cx="339.8" cy="65.3" r="0.68" fill="#2a2a2a"/>
<circle cx="337.3" cy="71.1" r="0.68" fill="#2a2a2a"/>
<circle cx="341.3" cy="62.2" r="0.68" fill="#2a2a2a"/>
<circle cx="354.8" cy="60.4" r="0.68" fill="#2a2a2a"/>
<circle cx="366.5" cy="60.6" r="0.68" fill="#2a2a2a"/>
<circle cx="362.7" cy="71.3" r="0.68" fill="#2a2a2a"/>
<circle cx="339.0" cy="65.5" r="0.68" fill="#2a2a2a"/>
<circle cx="341.4" cy="63.8" r="0.68" fill="#2a2a2a"/>
<circle cx="348.6" cy="89.2" r="0.68" fill="#2a2a2a"/>
<circle cx="346.7" cy="86.3" r="0.68" fill="#2a2a2a"/>
<circle cx="357.6" cy="52.8" r="0.68" fill="#2a2a2a"/>
<circle cx="365.0" cy="72.5" r="0.68" fill="#2a2a2a"/>
<circle cx="349.4" cy="65.1" r="0.68" fill="#2a2a2a"/>
<circle cx="355.3" cy="64.5" r="0.68" fill="#2a2a2a"/>
<circle cx="345.3" cy="63.7" r="0.68" fill="#2a2a2a"/>
<circle cx="366.7" cy="60.8" r="0.68" fill="#2a2a2a"/>
<circle cx="356.8" cy="54.6" r="0.68" fill="#2a2a2a"/>
<circle cx="343.0" cy="52.0" r="0.68" fill="#2a2a2a"/>
<circle cx="349.5" cy="75.9" r="0.68" fill="#2a2a2a"/>
<circle cx="355.8" cy="62.3" r="0.68" fill="#2a2a2a"/>
<circle cx="359.7" cy="64.0" r="0.68" fill="#2a2a2a"/>
<circle cx="356.7" cy="71.2" r="0.68" fill="#2a2a2a"/>
<circle cx="335.6" cy="77.0" r="0.68" fill="#2a2a2a"/>
<circle cx="349.0" cy="61.6" r="0.68" fill="#2a2a2a"/>
<circle cx="370.8" cy="74.5" r="0.68" fill="#2a2a2a"/>
<circle cx="375.9" cy="73.9" r="0.68" fill="#2a2a2a"/>
<circle cx="349.4" cy="76.4" r="0.68" fill="#2a2a2a"/>
<circle cx="342.1" cy="62.8" r="0.68" fill="#2a2a2a"/>
<circle cx="345.0" cy="65.4" r="0.68" fill="#2a2a2a"/>
<circle cx="361.8" cy="62.4" r="0.68" fill="#2a2a2a"/>
<circle cx="356.1" cy="62.2" r="0.68" fill="#2a2a2a"/>
<circle cx="349.4" cy="70.0" r="0.68" fill="#2a2a2a"/>
<circle cx="338.4" cy="79.8" r="0.68" fill="#2a2a2a"/>
<circle cx="354.7" cy="82.9" r="0.68" fill="#2a2a2a"/>
<circle cx="364.1" cy="75.4" r="0.68" fill="#2a2a2a"/>
<circle cx="350.1" cy="55.4" r="0.68" fill="#2a2a2a"/>
<circle cx="349.2" cy="62.7" r="0.68" fill="#2a2a2a"/>
<circle cx="355.1" cy="62.6" r="0.68" fill="#2a2a2a"/>
<circle cx="366.8" cy="62.6" r="0.68" fill="#2a2a2a"/>
<circle cx="349.0" cy="78.7" r="0.68" fill="#2a2a2a"/>
<circle cx="352.0" cy="53.9" r="0.68" fill="#2a2a2a"/>
<circle cx="357.2" cy="65.7" r="0.68" fill="#2a2a2a"/>
<circle cx="338.7" cy="59.4" r="0.68" fill="#2a2a2a"/>
<circle cx="358.1" cy="71.5" r="0.68" fill="#2a2a2a"/>
<circle cx="357.3" cy="60.9" r="0.68" fill="#2a2a2a"/>
<circle cx="355.0" cy="66.6" r="0.68" fill="#2a2a2a"/>
<circle cx="349.7" cy="64.8" r="0.68" fill="#2a2a2a"/>
<circle cx="344.9" cy="79.4" r="0.68" fill="#2a2a2a"/>
<circle cx="352.4" cy="87.8" r="0.68" fill="#2a2a2a"/>
<circle cx="361.9" cy="87.1" r="0.68" fill="#2a2a2a"/>
<circle cx="350.5" cy="72.3" r="0.68" fill="#2a2a2a"/>
<circle cx="346.6" cy="66.0" r="0.68" fill="#2a2a2a"/>
<circle cx="330.3" cy="61.3" r="0.68" fill="#2a2a2a"/>
<circle cx="340.1" cy="60.5" r="0.68" fill="#2a2a2a"/>
<circle cx="367.3" cy="71.0" r="0.68" fill="#2a2a2a"/>
<circle cx="367.4" cy="77.9" r="0.68" fill="#2a2a2a"/>
<circle cx="363.5" cy="79.6" r="0.68" fill="#2a2a2a"/>
<circle cx="344.4" cy="77.3" r="0.68" fill="#2a2a2a"/>
<circle cx="348.0" cy="61.9" r="0.68" fill="#2a2a2a"/>
<circle cx="362.4" cy="58.2" r="0.68" fill="#2a2a2a"/>
<circle cx="355.4" cy="72.3" r="0.68" fill="#2a2a2a"/>
<circle cx="356.7" cy="63.9" r="0.68" fill="#2a2a2a"/>
<circle cx="335.9" cy="68.4" r="0.68" fill="#2a2a2a"/>
<circle cx="362.8" cy="77.1" r="0.68" fill="#2a2a2a"/>
<circle cx="360.3" cy="80.7" r="0.68" fill="#2a2a2a"/>
<circle cx="339.6" cy="67.5" r="0.68" fill="#2a2a2a"/>
<circle cx="356.3" cy="79.6" r="0.68" fill="#2a2a2a"/>
<circle cx="354.0" cy="74.0" r="0.68" fill="#2a2a2a"/>
<circle cx="329.1" cy="69.5" r="0.68" fill="#2a2a2a"/>
<circle cx="334.0" cy="60.1" r="0.68" fill="#2a2a2a"/>
<circle cx="354.8" cy="87.8" r="0.68" fill="#2a2a2a"/>
<circle cx="357.8" cy="75.7" r="0.68" fill="#2a2a2a"/>
<circle cx="364.8" cy="70.3" r="0.68" fill="#2a2a2a"/>
<circle cx="341.3" cy="66.9" r="0.68" fill="#2a2a2a"/>
<circle cx="356.2" cy="64.8" r="0.68" fill="#2a2a2a"/>
<circle cx="343.6" cy="63.9" r="0.68" fill="#2a2a2a"/>
<circle cx="333.2" cy="56.2" r="0.68" fill="#2a2a2a"/>
<circle cx="350.9" cy="63.8" r="0.68" fill="#2a2a2a"/>
<circle cx="352.5" cy="84.2" r="0.68" fill="#2a2a2a"/>
<circle cx="355.8" cy="67.6" r="0.68" fill="#2a2a2a"/>
<circle cx="337.3" cy="55.5" r="0.68" fill="#2a2a2a"/>
<circle cx="356.7" cy="57.9" r="0.68" fill="#2a2a2a"/>
<circle cx="357.4" cy="55.6" r="0.68" fill="#2a2a2a"/>
<circle cx="353.7" cy="67.2" r="0.68" fill="#2a2a2a"/>
<circle cx="364.5" cy="63.5" r="0.68" fill="#2a2a2a"/>
<circle cx="347.3" cy="70.8" r="0.68" fill="#2a2a2a"/>
<circle cx="352.7" cy="87.5" r="0.68" fill="#2a2a2a"/>
<circle cx="348.8" cy="61.8" r="0.68" fill="#2a2a2a"/>
<circle cx="348.0" cy="73.5" r="0.68" fill="#2a2a2a"/>
<circle cx="354.9" cy="76.0" r="0.68" fill="#2a2a2a"/>
<circle cx="375.0" cy="67.6" r="0.68" fill="#2a2a2a"/>
<circle cx="336.9" cy="69.8" r="0.68" fill="#2a2a2a"/>
<circle cx="357.2" cy="42.2" r="0.68" fill="#2a2a2a"/>
<circle cx="352.2" cy="50.9" r="0.68" fill="#2a2a2a"/>
<circle cx="357.7" cy="84.0" r="0.68" fill="#2a2a2a"/>
<circle cx="364.9" cy="50.6" r="0.68" fill="#2a2a2a"/>
<circle cx="369.3" cy="78.5" r="0.68" fill="#2a2a2a"/>
<circle cx="347.5" cy="73.8" r="0.68" fill="#2a2a2a"/>
<circle cx="371.0" cy="64.2" r="0.68" fill="#2a2a2a"/>
<circle cx="351.8" cy="61.5" r="0.68" fill="#2a2a2a"/>
<circle cx="366.5" cy="43.1" r="0.68" fill="#2a2a2a"/>
<circle cx="369.8" cy="56.8" r="0.68" fill="#2a2a2a"/>
<circle cx="363.6" cy="49.2" r="0.68" fill="#2a2a2a"/>
<circle cx="340.3" cy="61.1" r="0.68" fill="#2a2a2a"/>
<circle cx="362.4" cy="49.3" r="0.68" fill="#2a2a2a"/>
<circle cx="359.5" cy="60.7" r="0.68" fill="#2a2a2a"/>
<circle cx="367.5" cy="64.4" r="0.68" fill="#2a2a2a"/>
<circle cx="358.1" cy="66.0" r="0.68" fill="#2a2a2a"/>
<circle cx="374.4" cy="63.8" r="0.68" fill="#2a2a2a"/>
<circle cx="351.7" cy="90.9" r="0.68" fill="#2a2a2a"/>
<circle cx="353.0" cy="75.9" r="0.68" fill="#2a2a2a"/>
<circle cx="342.8" cy="70.3" r="0.68" fill="#2a2a2a"/>
<circle cx="343.9" cy="50.6" r="0.68" fill="#2a2a2a"/>
<circle cx="334.3" cy="81.2" r="0.68" fill="#2a2a2a"/>
<circle cx="357.3" cy="50.5" r="0.68" fill="#2a2a2a"/>
<circle cx="374.7" cy="60.0" r="0.68" fill="#2a2a2a"/>
<circle cx="347.4" cy="70.8" r="0.68" fill="#2a2a2a"/>
<circle cx="337.8" cy="49.3" r="0.68" fill="#2a2a2a"/>
<circle cx="342.7" cy="81.6" r="0.68" fill="#2a2a2a"/>
<circle cx="363.9" cy="49.8" r="0.68" fill="#2a2a2a"/>
<circle cx="367.1" cy="68.4" r="0.68" fill="#2a2a2a"/>
<circle cx="358.3" cy="68.6" r="0.68" fill="#2a2a2a"/>
<circle cx="357.2" cy="56.4" r="0.68" fill="#2a2a2a"/>
<circle cx="340.6" cy="59.9" r="0.68" fill="#2a2a2a"/>
<circle cx="347.4" cy="75.2" r="0.68" fill="#2a2a2a"/>
<circle cx="344.1" cy="61.2" r="0.68" fill="#2a2a2a"/>
<circle cx="360.8" cy="73.0" r="0.68" fill="#2a2a2a"/>
<circle cx="347.8" cy="55.6" r="0.68" fill="#2a2a2a"/>
<circle cx="339.5" cy="49.5" r="0.68" fill="#2a2a2a"/>
<circle cx="366.3" cy="80.5" r="0.68" fill="#2a2a2a"/>
<circle cx="375.4" cy="73.8" r="0.68" fill="#2a2a2a"/>
<circle cx="356.2" cy="76.7" r="0.68" fill="#2a2a2a"/>
<circle cx="363.9" cy="65.0" r="0.68" fill="#2a2a2a"/>
<circle cx="330.8" cy="51.8" r="0.68" fill="#2a2a2a"/>
<circle cx="339.9" cy="76.7" r="0.68" fill="#2a2a2a"/>
<circle cx="366.9" cy="64.1" r="0.68" fill="#2a2a2a"/>
<circle cx="360.4" cy="67.4" r="0.68" fill="#2a2a2a"/>
<circle cx="355.8" cy="61.8" r="0.68" fill="#2a2a2a"/>
<circle cx="351.7" cy="67.9" r="0.68" fill="#2a2a2a"/>
<circle cx="329.3" cy="74.2" r="0.68" fill="#2a2a2a"/>
<circle cx="351.9" cy="79.2" r="0.68" fill="#2a2a2a"/>
<circle cx="365.3" cy="77.0" r="0.68" fill="#2a2a2a"/>
<circle cx="362.1" cy="57.0" r="0.68" fill="#2a2a2a"/>
<circle cx="367.1" cy="57.0" r="0.68" fill="#2a2a2a"/>
<circle cx="368.2" cy="75.7" r="0.68" fill="#2a2a2a"/>
<circle cx="339.6" cy="81.5" r="0.68" fill="#2a2a2a"/>
<circle cx="343.5" cy="59.4" r="0.68" fill="#2a2a2a"/>
<circle cx="332.7" cy="65.5" r="0.68" fill="#2a2a2a"/>
<circle cx="364.7" cy="60.2" r="0.68" fill="#2a2a2a"/>
<circle cx="375.1" cy="76.0" r="0.68" fill="#2a2a2a"/>
<circle cx="345.3" cy="54.0" r="0.68" fill="#2a2a2a"/>
<circle cx="331.5" cy="74.5" r="0.68" fill="#2a2a2a"/>
<circle cx="368.3" cy="55.7" r="0.68" fill="#2a2a2a"/>
<circle cx="352.0" cy="64.8" r="0.68" fill="#2a2a2a"/>
<circle cx="348.8" cy="73.8" r="0.68" fill="#2a2a2a"/>
<circle cx="378.2" cy="60.6" r="0.68" fill="#2a2a2a"/>
<circle cx="362.6" cy="80.6" r="0.68" fill="#2a2a2a"/>
<circle cx="348.4" cy="66.3" r="0.68" fill="#2a2a2a"/>
<circle cx="335.2" cy="80.5" r="0.68" fill="#2a2a2a"/>
<circle cx="345.3" cy="60.4" r="0.68" fill="#2a2a2a"/>
<circle cx="352.8" cy="58.1" r="0.68" fill="#2a2a2a"/>
<circle cx="338.9" cy="64.6" r="0.68" fill="#2a2a2a"/>
<circle cx="370.6" cy="65.6" r="0.68" fill="#2a2a2a"/>
<circle cx="358.6" cy="51.0" r="0.68" fill="#2a2a2a"/>
<circle cx="347.0" cy="50.2" r="0.68" fill="#2a2a2a"/>
<circle cx="350.7" cy="75.0" r="0.68" fill="#2a2a2a"/>
<circle cx="330.4" cy="57.8" r="0.68" fill="#2a2a2a"/>
<circle cx="355.3" cy="57.3" r="0.68" fill="#2a2a2a"/>
<circle cx="362.0" cy="79.1" r="0.68" fill="#2a2a2a"/>
<circle cx="357.5" cy="63.0" r="0.68" fill="#2a2a2a"/>
<circle cx="351.4" cy="60.7" r="0.68" fill="#2a2a2a"/>
<circle cx="350.4" cy="71.7" r="0.68" fill="#2a2a2a"/>
<circle cx="348.2" cy="79.3" r="0.68" fill="#2a2a2a"/>
<circle cx="356.3" cy="77.5" r="0.68" fill="#2a2a2a"/>
<circle cx="360.1" cy="65.2" r="0.68" fill="#2a2a2a"/>
<circle cx="346.0" cy="79.6" r="0.68" fill="#2a2a2a"/>
<circle cx="333.1" cy="52.5" r="0.62" fill="#333333"/>
<circle cx="347.4" cy="58.5" r="0.62" fill="#333333"/>
<circle cx="350.2" cy="80.2" r="0.62" fill="#333333"/>
<circle cx="359.6" cy="77.4" r="0.62" fill="#333333"/>
<circle cx="343.4" cy="47.3" r="0.62" fill="#333333"/>
<circle cx="365.6" cy="62.6" r="0.62" fill="#333333"/>
<circle cx="355.6" cy="72.2" r="0.62" fill="#333333"/>
<circle cx="365.3" cy="53.2" r="0.62" fill="#333333"/>
<circle cx="345.8" cy="84.0" r="0.62" fill="#333333"/>
<circle cx="354.2" cy="53.8" r="0.62" fill="#333333"/>
<circle cx="359.2" cy="52.5" r="0.62" fill="#333333"/>
<circle cx="369.0" cy="67.2" r="0.62" fill="#333333"/>
<circle cx="345.4" cy="85.1" r="0.62" fill="#333333"/>
<circle cx="341.0" cy="51.7" r="0.62" fill="#333333"/>
<circle cx="331.2" cy="66.3" r="0.62" fill="#333333"/>
<circle cx="365.4" cy="72.5" r="0.62" fill="#333333"/>
<circle cx="348.3" cy="78.8" r="0.62" fill="#333333"/>
<circle cx="333.3" cy="54.7" r="0.62" fill="#333333"/>
<circle cx="359.9" cy="86.4" r="0.62" fill="#333333"/>
<circle cx="359.4" cy="73.2" r="0.62" fill="#333333"/>
<circle cx="366.4" cy="58.9" r="0.62" fill="#333333"/>
<circle cx="344.8" cy="58.8" r="0.62" fill="#333333"/>
<circle cx="368.0" cy="56.8" r="0.62" fill="#333333"/>
<circle cx="337.0" cy="81.8" r="0.62" fill="#333333"/>
<circle cx="354.3" cy="65.0" r="0.62" fill="#333333"/>
<circle cx="361.2" cy="83.3" r="0.62" fill="#333333"/>
<circle cx="334.4" cy="56.3" r="0.62" fill="#333333"/>
<circle cx="331.0" cy="59.8" r="0.62" fill="#333333"/>
<circle cx="352.8" cy="80.9" r="0.62" fill="#333333"/>
<circle cx="361.1" cy="67.7" r="0.62" fill="#333333"/>
<circle cx="347.9" cy="67.5" r="0.62" fill="#333333"/>
<circle cx="341.4" cy="80.6" r="0.62" fill="#333333"/>
<circle cx="367.1" cy="80.2" r="0.62" fill="#333333"/>
<circle cx="335.3" cy="72.2" r="0.62" fill="#333333"/>
<circle cx="365.4" cy="64.0" r="0.62" fill="#333333"/>
<circle cx="364.9" cy="79.4" r="0.62" fill="#333333"/>
<circle cx="360.1" cy="82.2" r="0.62" fill="#333333"/>
<circle cx="334.3" cy="73.8" r="0.62" fill="#333333"/>
<circle cx="362.9" cy="69.4" r="0.62" fill="#333333"/>
<circle cx="341.5" cy="43.2" r="0.62" fill="#333333"/>
<circle cx="357.9" cy="79.6" r="0.62" fill="#333333"/>
<circle cx="341.4" cy="50.2" r="0.62" fill="#333333"/>
<circle cx="338.9" cy="44.5" r="0.62" fill="#333333"/>
<circle cx="367.8" cy="57.3" r="0.62" fill="#333333"/>
<circle cx="362.7" cy="43.5" r="0.62" fill="#333333"/>
<circle cx="369.6" cy="55.6" r="0.62" fill="#333333"/>
<circle cx="334.6" cy="53.2" r="0.62" fill="#333333"/>
<circle cx="330.7" cy="61.4" r="0.62" fill="#333333"/>
<circle cx="355.4" cy="78.8" r="0.62" fill="#333333"/>
<circle cx="333.2" cy="50.8" r="0.62" fill="#333333"/>
<circle cx="359.2" cy="56.3" r="0.62" fill="#333333"/>
<circle cx="344.3" cy="67.3" r="0.62" fill="#333333"/>
<circle cx="338.6" cy="78.1" r="0.62" fill="#333333"/>
<circle cx="338.1" cy="80.3" r="0.62" fill="#333333"/>
<circle cx="368.1" cy="65.8" r="0.62" fill="#333333"/>
<circle cx="329.1" cy="64.2" r="0.62" fill="#333333"/>
<circle cx="348.9" cy="43.0" r="0.62" fill="#333333"/>
<circle cx="359.2" cy="74.8" r="0.62" fill="#333333"/>
<circle cx="356.9" cy="59.2" r="0.62" fill="#333333"/>
<circle cx="353.3" cy="68.3" r="0.62" fill="#333333"/>
<circle cx="339.0" cy="81.6" r="0.62" fill="#333333"/>
<circle cx="375.8" cy="55.8" r="0.62" fill="#333333"/>
<circle cx="351.6" cy="46.4" r="0.62" fill="#333333"/>
<circle cx="350.4" cy="72.8" r="0.62" fill="#333333"/>
<circle cx="363.1" cy="61.8" r="0.62" fill="#333333"/>
<circle cx="344.8" cy="49.1" r="0.62" fill="#333333"/>
<circle cx="347.8" cy="53.6" r="0.62" fill="#333333"/>
<circle cx="337.4" cy="75.3" r="0.62" fill="#333333"/>
<circle cx="353.5" cy="61.1" r="0.62" fill="#333333"/>
<circle cx="337.6" cy="73.8" r="0.62" fill="#333333"/>
<circle cx="337.5" cy="52.7" r="0.62" fill="#333333"/>
<circle cx="355.7" cy="73.7" r="0.62" fill="#333333"/>
<circle cx="363.8" cy="74.5" r="0.62" fill="#333333"/>
<circle cx="363.8" cy="70.2" r="0.62" fill="#333333"/>
<circle cx="340.9" cy="57.1" r="0.62" fill="#333333"/>
<circle cx="335.9" cy="70.3" r="0.62" fill="#333333"/>
<circle cx="345.5" cy="83.2" r="0.62" fill="#333333"/>
<circle cx="367.9" cy="61.8" r="0.62" fill="#333333"/>
<circle cx="335.4" cy="77.3" r="0.62" fill="#333333"/>
<circle cx="351.3" cy="87.5" r="0.62" fill="#333333"/>
<circle cx="351.5" cy="79.5" r="0.62" fill="#333333"/>
<circle cx="355.9" cy="64.4" r="0.62" fill="#333333"/>
<circle cx="338.2" cy="52.1" r="0.62" fill="#333333"/>
<circle cx="363.2" cy="85.4" r="0.62" fill="#333333"/>
<circle cx="376.7" cy="61.0" r="0.62" fill="#333333"/>
<circle cx="364.3" cy="58.4" r="0.62" fill="#333333"/>
<circle cx="368.3" cy="80.4" r="0.62" fill="#333333"/>
<circle cx="338.4" cy="68.1" r="0.62" fill="#333333"/>
<circle cx="369.2" cy="77.7" r="0.62" fill="#333333"/>
<circle cx="350.9" cy="42.1" r="0.62" fill="#333333"/>
<circle cx="372.2" cy="65.6" r="0.62" fill="#333333"/>
<circle cx="331.2" cy="55.5" r="0.62" fill="#333333"/>
<circle cx="358.9" cy="82.5" r="0.62" fill="#333333"/>
<circle cx="351.9" cy="70.7" r="0.62" fill="#333333"/>
<circle cx="338.0" cy="51.7" r="0.62" fill="#333333"/>
<circle cx="373.0" cy="58.4" r="0.62" fill="#333333"/>
<circle cx="332.9" cy="68.4" r="0.62" fill="#333333"/>
<circle cx="334.0" cy="49.6" r="0.62" fill="#333333"/>
<circle cx="350.5" cy="68.1" r="0.62" fill="#333333"/>
<circle cx="359.5" cy="73.9" r="0.62" fill="#333333"/>
<circle cx="349.7" cy="43.2" r="0.62" fill="#333333"/>
<circle cx="363.9" cy="42.6" r="0.62" fill="#333333"/>
<circle cx="351.2" cy="59.2" r="0.62" fill="#333333"/>
<circle cx="361.3" cy="74.3" r="0.62" fill="#333333"/>
<circle cx="339.7" cy="71.2" r="0.62" fill="#333333"/>
<circle cx="362.3" cy="62.6" r="0.62" fill="#333333"/>
<circle cx="357.7" cy="43.0" r="0.62" fill="#333333"/>
<circle cx="339.1" cy="58.8" r="0.62" fill="#333333"/>
<circle cx="367.1" cy="79.5" r="0.62" fill="#333333"/>
<circle cx="359.4" cy="75.6" r="0.62" fill="#333333"/>
<circle cx="338.7" cy="72.3" r="0.62" fill="#333333"/>
<circle cx="374.2" cy="70.7" r="0.62" fill="#333333"/>
<circle cx="373.7" cy="52.6" r="0.62" fill="#333333"/>
<circle cx="365.6" cy="45.0" r="0.62" fill="#333333"/>
<circle cx="337.0" cy="78.7" r="0.62" fill="#333333"/>
<circle cx="335.8" cy="64.6" r="0.62" fill="#333333"/>
<circle cx="333.0" cy="77.8" r="0.62" fill="#333333"/>
<circle cx="355.5" cy="79.4" r="0.62" fill="#333333"/>
<circle cx="352.8" cy="69.8" r="0.62" fill="#333333"/>
<circle cx="357.4" cy="78.4" r="0.62" fill="#333333"/>
<circle cx="355.0" cy="54.0" r="0.62" fill="#333333"/>
<circle cx="369.2" cy="79.0" r="0.62" fill="#333333"/>
<circle cx="350.6" cy="45.9" r="0.62" fill="#333333"/>
<circle cx="360.2" cy="49.9" r="0.62" fill="#333333"/>
<circle cx="349.2" cy="45.3" r="0.62" fill="#333333"/>
<circle cx="376.5" cy="66.2" r="0.62" fill="#333333"/>
<circle cx="345.3" cy="44.5" r="0.62" fill="#333333"/>
<circle cx="364.2" cy="80.8" r="0.62" fill="#333333"/>
<circle cx="346.1" cy="54.5" r="0.62" fill="#333333"/>
<circle cx="365.8" cy="47.1" r="0.62" fill="#333333"/>
<circle cx="358.0" cy="87.0" r="0.62" fill="#333333"/>
<circle cx="362.3" cy="68.7" r="0.62" fill="#333333"/>
<circle cx="353.7" cy="61.9" r="0.62" fill="#333333"/>
<circle cx="348.1" cy="69.3" r="0.62" fill="#333333"/>
<circle cx="360.1" cy="84.0" r="0.62" fill="#333333"/>
<circle cx="364.3" cy="78.2" r="0.62" fill="#333333"/>
<circle cx="361.7" cy="80.8" r="0.62" fill="#333333"/>
<circle cx="349.2" cy="82.2" r="0.62" fill="#333333"/>
<circle cx="349.8" cy="73.9" r="0.62" fill="#333333"/>
<circle cx="340.3" cy="54.4" r="0.62" fill="#333333"/>
<line x1="380.5" y1="60" x2="383.5" y2="60" stroke="#555" stroke-width="0.6"/>
<line x1="218.00" y1="11.60" x2="218.00" y2="120.40" stroke="#3a3a3a" stroke-width="0.8" />
<line x1="217.60" y1="120.00" x2="398.80" y2="120.00" stroke="#3a3a3a" stroke-width="0.8" />
<line x1="216.20" y1="115.42" x2="218.00" y2="115.42" stroke="#3a3a3a" stroke-width="0.6" />
<text x="215.40" y="117.52" font-size="6.0" text-anchor="end" font-family='"Liberation Serif", serif' fill="#161616" stroke="#161616" stroke-width="0.14" >-6</text>
<line x1="227.08" y1="120.00" x2="227.08" y2="121.80" stroke="#3a3a3a" stroke-width="0.6" />
<text x="227.08" y="126.70" font-size="6.0" text-anchor="middle" font-family='"Liberation Serif", serif' fill="#161616" stroke="#161616" stroke-width="0.14" >-6</text>
<line x1="216.20" y1="90.61" x2="218.00" y2="90.61" stroke="#3a3a3a" stroke-width="0.6" />
<text x="215.40" y="92.71" font-size="6.0" text-anchor="end" font-family='"Liberation Serif", serif' fill="#161616" stroke="#161616" stroke-width="0.14" >-3</text>
<line x1="267.79" y1="120.00" x2="267.79" y2="121.80" stroke="#3a3a3a" stroke-width="0.6" />
<text x="267.79" y="126.70" font-size="6.0" text-anchor="middle" font-family='"Liberation Serif", serif' fill="#161616" stroke="#161616" stroke-width="0.14" >-3</text>
<line x1="216.20" y1="65.80" x2="218.00" y2="65.80" stroke="#3a3a3a" stroke-width="0.6" />
<text x="215.40" y="67.90" font-size="6.0" text-anchor="end" font-family='"Liberation Serif", serif' fill="#161616" stroke="#161616" stroke-width="0.14" >0</text>
<line x1="308.50" y1="120.00" x2="308.50" y2="121.80" stroke="#3a3a3a" stroke-width="0.6" />
<text x="308.50" y="126.70" font-size="6.0" text-anchor="middle" font-family='"Liberation Serif", serif' fill="#161616" stroke="#161616" stroke-width="0.14" >0</text>
<line x1="216.20" y1="40.99" x2="218.00" y2="40.99" stroke="#3a3a3a" stroke-width="0.6" />
<text x="215.40" y="43.09" font-size="6.0" text-anchor="end" font-family='"Liberation Serif", serif' fill="#161616" stroke="#161616" stroke-width="0.14" >3</text>
<line x1="349.21" y1="120.00" x2="349.21" y2="121.80" stroke="#3a3a3a" stroke-width="0.6" />
<text x="349.21" y="126.70" font-size="6.0" text-anchor="middle" font-family='"Liberation Serif", serif' fill="#161616" stroke="#161616" stroke-width="0.14" >3</text>
<line x1="216.20" y1="16.18" x2="218.00" y2="16.18" stroke="#3a3a3a" stroke-width="0.6" />
<text x="215.40" y="18.28" font-size="6.0" text-anchor="end" font-family='"Liberation Serif", serif' fill="#161616" stroke="#161616" stroke-width="0.14" >6</text>
<line x1="389.92" y1="120.00" x2="389.92" y2="121.80" stroke="#3a3a3a" stroke-width="0.6" />
<text x="389.92" y="126.70" font-size="6.0" text-anchor="middle" font-family='"Liberation Serif", serif' fill="#161616" stroke="#161616" stroke-width="0.14" >6</text>
<text x="308.80" y="134.40" font-size="6.2" text-anchor="middle" font-family='"Liberation Serif", serif' fill="#161616" stroke="#161616" stroke-width="0.14" >Dim1 (37.1%)</text>
<text x="205.00" y="63.60" font-size="6.2" text-anchor="middle" font-family='"Liberation Serif", serif' fill="#161616" stroke="#161616" stroke-width="0.14" transform="rotate(-90 205.0 63.6)" dominant-baseline="middle">Dim2 (18.7%)</text>
<text x="202.1" y="6.3" font-size="6.3" font-weight="bold" font-family='"Liberation Sans", sans-serif' fill="#111">B</text>
<line x1="17.40" y1="174.30" x2="197.40" y2="174.30" stroke="#f2f2f2" stroke-width="0.5" />
<line x1="17.40" y1="167.63" x2="197.40" y2="167.63" stroke="#f2f2f2" stroke-width="0.5" />
<line x1="17.40" y1="160.97" x2="197.40" y2="160.97" stroke="#f2f2f2" stroke-width="0.5" />
<line x1="17.40" y1="154.30" x2="197.40" y2="154.30" stroke="#f2f2f2" stroke-width="0.5" />
<line x1="17.40" y1="170.97" x2="197.40" y2="170.97" stroke="#f2f2f2" stroke-width="0.3" />
<line x1="17.40" y1="164.30" x2="197.40" y2="164.30" stroke="#f2f2f2" stroke-width="0.3" />
<line x1="17.40" y1="157.63" x2="197.40" y2="157.63" stroke="#f2f2f2" stroke-width="0.3" />
<line x1="60.60" y1="150.60" x2="60.60" y2="175.10" stroke="#f2f2f2" stroke-width="0.5" />
<line x1="107.40" y1="150.60" x2="107.40" y2="175.10" stroke="#f2f2f2" stroke-width="0.5" />
<line x1="154.20" y1="150.60" x2="154.20" y2="175.10" stroke="#f2f2f2" stroke-width="0.5" />
<line x1="37.20" y1="150.60" x2="37.20" y2="175.10" stroke="#f2f2f2" stroke-width="0.3" />
<line x1="84.00" y1="150.60" x2="84.00" y2="175.10" stroke="#f2f2f2" stroke-width="0.3" />
<line x1="130.80" y1="150.60" x2="130.80" y2="175.10" stroke="#f2f2f2" stroke-width="0.3" />
<polygon points="25.50,174.65 25.50,173.45 33.30,173.45 33.30,172.05 41.10,172.05 41.10,172.05 48.90,172.05 48.90,169.85 56.70,169.85 56.70,168.35 64.50,168.35 64.50,168.85 72.30,168.85 72.30,167.95 80.10,167.95 80.10,167.95 87.90,167.95 87.90,170.15 95.70,170.15 95.70,167.95 103.50,167.95 103.50,167.45 111.30,167.45 111.30,166.55 119.10,166.55 119.10,167.95 126.90,167.95 126.90,168.65 134.70,168.65 134.70,170.95 142.50,170.95 142.50,173.25 150.30,173.25 150.30,173.95 158.10,173.95 158.10,173.95 165.90,173.95 165.90,173.95 173.70,173.95 173.70,173.95 181.50,173.95 181.50,173.95 189.30,173.95 189.30,174.65" fill="#009E73"/>
<line x1="60.60" y1="150.60" x2="60.60" y2="174.90" stroke="#5a5a5a" stroke-width="0.9" />
<line x1="17.40" y1="150.60" x2="17.40" y2="175.30" stroke="#3a3a3a" stroke-width="0.8" />
<line x1="15.60" y1="174.30" x2="17.40" y2="174.30" stroke="#3a3a3a" stroke-width="0.6" />
<text x="14.80" y="176.40" font-size="6.0" text-anchor="end" font-family='"Liberation Serif", serif' fill="#161616" stroke="#161616" stroke-width="0.14" >0</text>
<line x1="15.60" y1="167.63" x2="17.40" y2="167.63" stroke="#3a3a3a" stroke-width="0.6" />
<text x="14.80" y="169.73" font-size="6.0" text-anchor="end" font-family='"Liberation Serif", serif' fill="#161616" stroke="#161616" stroke-width="0.14" >20</text>
<line x1="15.60" y1="160.97" x2="17.40" y2="160.97" stroke="#3a3a3a" stroke-width="0.6" />
<text x="14.80" y="163.07" font-size="6.0" text-anchor="end" font-family='"Liberation Serif", serif' fill="#161616" stroke="#161616" stroke-width="0.14" >40</text>
<line x1="15.60" y1="154.30" x2="17.40" y2="154.30" stroke="#3a3a3a" stroke-width="0.6" />
<text x="14.80" y="156.40" font-size="6.0" text-anchor="end" font-family='"Liberation Serif", serif' fill="#161616" stroke="#161616" stroke-width="0.14" >60</text>
<line x1="17.40" y1="202.30" x2="197.40" y2="202.30" stroke="#f2f2f2" stroke-width="0.5" />
<line x1="17.40" y1="195.63" x2="197.40" y2="195.63" stroke="#f2f2f2" stroke-width="0.5" />
<line x1="17.40" y1="188.97" x2="197.40" y2="188.97" stroke="#f2f2f2" stroke-width="0.5" />
<line x1="17.40" y1="182.30" x2="197.40" y2="182.30" stroke="#f2f2f2" stroke-width="0.5" />
<line x1="17.40" y1="198.97" x2="197.40" y2="198.97" stroke="#f2f2f2" stroke-width="0.3" />
<line x1="17.40" y1="192.30" x2="197.40" y2="192.30" stroke="#f2f2f2" stroke-width="0.3" />
<line x1="17.40" y1="185.63" x2="197.40" y2="185.63" stroke="#f2f2f2" stroke-width="0.3" />
<line x1="60.60" y1="178.40" x2="60.60" y2="203.10" stroke="#f2f2f2" stroke-width="0.5" />
<line x1="107.40" y1="178.40" x2="107.40" y2="203.10" stroke="#f2f2f2" stroke-width="0.5" />
<line x1="154.20" y1="178.40" x2="154.20" y2="203.10" stroke="#f2f2f2" stroke-width="0.5" />
<line x1="37.20" y1="178.40" x2="37.20" y2="203.10" stroke="#f2f2f2" stroke-width="0.3" />
<line x1="84.00" y1="178.40" x2="84.00" y2="203.10" stroke="#f2f2f2" stroke-width="0.3" />
<line x1="130.80" y1="178.40" x2="130.80" y2="203.10" stroke="#f2f2f2" stroke-width="0.3" />
<polygon points="25.50,202.65 25.50,200.95 33.30,200.95 33.30,200.95 41.10,200.95 41.10,198.65 48.90,198.65 48.90,195.45 56.70,195.45 56.70,196.95 64.50,196.95 64.50,196.95 72.30,196.95 72.30,193.25 80.10,193.25 80.10,194.75 87.90,194.75 87.90,195.45 95.70,195.45 95.70,193.75 103.50,193.75 103.50,195.25 111.30,195.25 111.30,198.55 119.10,198.55 119.10,194.45 126.90,194.45 126.90,197.95 134.70,197.95 134.70,198.95 142.50,198.95 142.50,201.95 150.30,201.95 150.30,201.95 158.10,201.95 158.10,201.95 165.90,201.95 165.90,201.95 173.70,201.95 173.70,201.95 181.50,201.95 181.50,201.95 189.30,201.95 189.30,202.65" fill="#F0E442"/>
<line x1="60.60" y1="178.40" x2="60.60" y2="202.90" stroke="#5a5a5a" stroke-width="0.9" />
<line x1="17.40" y1="178.40" x2="17.40" y2="203.30" stroke="#3a3a3a" stroke-width="0.8" />
<line x1="15.60" y1="202.30" x2="17.40" y2="202.30" stroke="#3a3a3a" stroke-width="0.6" />
<text x="14.80" y="204.40" font-size="6.0" text-anchor="end" font-family='"Liberation Serif", serif' fill="#161616" stroke="#161616" stroke-width="0.14" >0</text>
<line x1="15.60" y1="195.63" x2="17.40" y2="195.63" stroke="#3a3a3a" stroke-width="0.6" />
<text x="14.80" y="197.73" font-size="6.0" text-anchor="end" font-family='"Liberation Serif", serif' fill="#161616" stroke="#161616" stroke-width="0.14" >20</text>
<line x1="15.60" y1="188.97" x2="17.40" y2="188.97" stroke="#3a3a3a" stroke-width="0.6" />
<text x="14.80" y="191.07" font-size="6.0" text-anchor="end" font-family='"Liberation Serif", serif' fill="#161616" stroke="#161616" stroke-width="0.14" >40</text>
<line x1="15.60" y1="182.30" x2="17.40" y2="182.30" stroke="#3a3a3a" stroke-width="0.6" />
<text x="14.80" y="184.40" font-size="6.0" text-anchor="end" font-family='"Liberation Serif", serif' fill="#161616" stroke="#161616" stroke-width="0.14" >60</text>
<line x1="17.40" y1="230.20" x2="197.40" y2="230.20" stroke="#f2f2f2" stroke-width="0.5" />
<line x1="17.40" y1="223.53" x2="197.40" y2="223.53" stroke="#f2f2f2" stroke-width="0.5" />
<line x1="17.40" y1="216.87" x2="197.40" y2="216.87" stroke="#f2f2f2" stroke-width="0.5" />
<line x1="17.40" y1="210.20" x2="197.40" y2="210.20" stroke="#f2f2f2" stroke-width="0.5" />
<line x1="17.40" y1="226.87" x2="197.40" y2="226.87" stroke="#f2f2f2" stroke-width="0.3" />
<line x1="17.40" y1="220.20" x2="197.40" y2="220.20" stroke="#f2f2f2" stroke-width="0.3" />
<line x1="17.40" y1="213.53" x2="197.40" y2="213.53" stroke="#f2f2f2" stroke-width="0.3" />
<line x1="60.60" y1="206.30" x2="60.60" y2="231.00" stroke="#f2f2f2" stroke-width="0.5" />
<line x1="107.40" y1="206.30" x2="107.40" y2="231.00" stroke="#f2f2f2" stroke-width="0.5" />
<line x1="154.20" y1="206.30" x2="154.20" y2="231.00" stroke="#f2f2f2" stroke-width="0.5" />
<line x1="37.20" y1="206.30" x2="37.20" y2="231.00" stroke="#f2f2f2" stroke-width="0.3" />
<line x1="84.00" y1="206.30" x2="84.00" y2="231.00" stroke="#f2f2f2" stroke-width="0.3" />
<line x1="130.80" y1="206.30" x2="130.80" y2="231.00" stroke="#f2f2f2" stroke-width="0.3" />
<polygon points="25.50,230.55 25.50,229.85 33.30,229.85 33.30,229.85 41.10,229.85 41.10,229.85 48.90,229.85 48.90,229.85 56.70,229.85 56.70,229.85 64.50,229.85 64.50,229.85 72.30,229.85 72.30,229.85 80.10,229.85 80.10,229.85 87.90,229.85 87.90,226.85 95.70,226.85 95.70,223.65 103.50,223.65 103.50,221.65 111.30,221.65 111.30,225.65 119.10,225.65 119.10,222.95 126.90,222.95 126.90,225.65 134.70,225.65 134.70,222.65 142.50,222.65 142.50,220.05 150.30,220.05 150.30,222.35 158.10,222.35 158.10,220.05 165.90,220.05 165.90,220.05 173.70,220.05 173.70,207.65 181.50,207.65 181.50,208.35 189.30,208.35 189.30,230.55" fill="#E69F00"/>
<line x1="60.60" y1="206.30" x2="60.60" y2="230.80" stroke="#5a5a5a" stroke-width="0.9" />
<line x1="17.40" y1="206.30" x2="17.40" y2="231.20" stroke="#3a3a3a" stroke-width="0.8" />
<line x1="15.60" y1="230.20" x2="17.40" y2="230.20" stroke="#3a3a3a" stroke-width="0.6" />
<text x="14.80" y="232.30" font-size="6.0" text-anchor="end" font-family='"Liberation Serif", serif' fill="#161616" stroke="#161616" stroke-width="0.14" >0</text>
<line x1="15.60" y1="223.53" x2="17.40" y2="223.53" stroke="#3a3a3a" stroke-width="0.6" />
<text x="14.80" y="225.63" font-size="6.0" text-anchor="end" font-family='"Liberation Serif", serif' fill="#161616" stroke="#161616" stroke-width="0.14" >20</text>
<line x1="15.60" y1="216.87" x2="17.40" y2="216.87" stroke="#3a3a3a" stroke-width="0.6" />
<text x="14.80" y="218.97" font-size="6.0" text-anchor="end" font-family='"Liberation Serif", serif' fill="#161616" stroke="#161616" stroke-width="0.14" >40</text>
<line x1="15.60" y1="210.20" x2="17.40" y2="210.20" stroke="#3a3a3a" stroke-width="0.6" />
<text x="14.80" y="212.30" font-size="6.0" text-anchor="end" font-family='"Liberation Serif", serif' fill="#161616" stroke="#161616" stroke-width="0.14" >60</text>
<line x1="17.40" y1="258.20" x2="197.40" y2="258.20" stroke="#f2f2f2" stroke-width="0.5" />
<line x1="17.40" y1="251.53" x2="197.40" y2="251.53" stroke="#f2f2f2" stroke-width="0.5" />
<line x1="17.40" y1="244.87" x2="197.40" y2="244.87" stroke="#f2f2f2" stroke-width="0.5" />
<line x1="17.40" y1="238.20" x2="197.40" y2="238.20" stroke="#f2f2f2" stroke-width="0.5" />
<line x1="17.40" y1="254.87" x2="197.40" y2="254.87" stroke="#f2f2f2" stroke-width="0.3" />
<line x1="17.40" y1="248.20" x2="197.40" y2="248.20" stroke="#f2f2f2" stroke-width="0.3" />
<line x1="17.40" y1="241.53" x2="197.40" y2="241.53" stroke="#f2f2f2" stroke-width="0.3" />
<line x1="60.60" y1="234.30" x2="60.60" y2="259.00" stroke="#f2f2f2" stroke-width="0.5" />
<line x1="107.40" y1="234.30" x2="107.40" y2="259.00" stroke="#f2f2f2" stroke-width="0.5" />
<line x1="154.20" y1="234.30" x2="154.20" y2="259.00" stroke="#f2f2f2" stroke-width="0.5" />
<line x1="37.20" y1="234.30" x2="37.20" y2="259.00" stroke="#f2f2f2" stroke-width="0.3" />
<line x1="84.00" y1="234.30" x2="84.00" y2="259.00" stroke="#f2f2f2" stroke-width="0.3" />
<line x1="130.80" y1="234.30" x2="130.80" y2="259.00" stroke="#f2f2f2" stroke-width="0.3" />
<polygon points="25.50,258.55 25.50,257.85 33.30,257.85 33.30,257.85 41.10,257.85 41.10,257.85 48.90,257.85 48.90,257.85 56.70,257.85 56.70,257.85 64.50,257.85 64.50,256.65 72.30,256.65 72.30,253.65 80.10,253.65 80.10,250.65 87.90,250.65 87.90,250.65 95.70,250.65 95.70,249.55 103.50,249.55 103.50,251.85 111.30,251.85 111.30,249.15 119.10,249.15 119.10,249.15 126.90,249.15 126.90,247.35 134.70,247.35 134.70,245.55 142.50,245.55 142.50,247.05 150.30,247.05 150.30,249.15 158.10,249.15 158.10,256.05 165.90,256.05 165.90,257.85 173.70,257.85 173.70,257.85 181.50,257.85 181.50,257.85 189.30,257.85 189.30,258.55" fill="#2b2b2b"/>
<line x1="60.60" y1="234.30" x2="60.60" y2="258.80" stroke="#5a5a5a" stroke-width="0.9" />
<line x1="17.40" y1="234.30" x2="17.40" y2="259.20" stroke="#3a3a3a" stroke-width="0.8" />
<line x1="15.60" y1="258.20" x2="17.40" y2="258.20" stroke="#3a3a3a" stroke-width="0.6" />
<text x="14.80" y="260.30" font-size="6.0" text-anchor="end" font-family='"Liberation Serif", serif' fill="#161616" stroke="#161616" stroke-width="0.14" >0</text>
<line x1="15.60" y1="251.53" x2="17.40" y2="251.53" stroke="#3a3a3a" stroke-width="0.6" />
<text x="14.80" y="253.63" font-size="6.0" text-anchor="end" font-family='"Liberation Serif", serif' fill="#161616" stroke="#161616" stroke-width="0.14" >20</text>
<line x1="15.60" y1="244.87" x2="17.40" y2="244.87" stroke="#3a3a3a" stroke-width="0.6" />
<text x="14.80" y="246.97" font-size="6.0" text-anchor="end" font-family='"Liberation Serif", serif' fill="#161616" stroke="#161616" stroke-width="0.14" >40</text>
<line x1="15.60" y1="238.20" x2="17.40" y2="238.20" stroke="#3a3a3a" stroke-width="0.6" />
<text x="14.80" y="240.30" font-size="6.0" text-anchor="end" font-family='"Liberation Serif", serif' fill="#161616" stroke="#161616" stroke-width="0.14" >60</text>
<line x1="17.00" y1="258.60" x2="197.40" y2="258.60" stroke="#3a3a3a" stroke-width="0.8" />
<line x1="60.60" y1="258.60" x2="60.60" y2="260.40" stroke="#3a3a3a" stroke-width="0.6" />
<text x="60.60" y="266.40" font-size="6.0" text-anchor="middle" font-family='"Liberation Serif", serif' fill="#161616" stroke="#161616" stroke-width="0.14" >0.0</text>
<line x1="107.40" y1="258.60" x2="107.40" y2="260.40" stroke="#3a3a3a" stroke-width="0.6" />
<text x="107.40" y="266.40" font-size="6.0" text-anchor="middle" font-family='"Liberation Serif", serif' fill="#161616" stroke="#161616" stroke-width="0.14" >0.3</text>
<line x1="154.20" y1="258.60" x2="154.20" y2="260.40" stroke="#3a3a3a" stroke-width="0.6" />
<text x="154.20" y="266.40" font-size="6.0" text-anchor="middle" font-family='"Liberation Serif", serif' fill="#161616" stroke="#161616" stroke-width="0.14" >0.6</text>
<text x="107.70" y="273.60" font-size="6.2" text-anchor="middle" font-family='"Liberation Serif", serif' fill="#161616" stroke="#161616" stroke-width="0.14" >Silhouette Coefficient</text>
<text x="4.40" y="205.20" font-size="6.2" text-anchor="middle" font-family='"Liberation Serif", serif' fill="#161616" stroke="#161616" stroke-width="0.14" transform="rotate(-90 4.4 205.2)" dominant-baseline="middle">count</text>
<text x="0.9" y="145.9" font-size="6.3" font-weight="bold" font-family='"Liberation Sans", sans-serif' fill="#111">C</text>
<line x1="246.64" y1="151.30" x2="246.64" y2="259.00" stroke="#f2f2f2" stroke-width="0.6" />
<line x1="275.35" y1="151.30" x2="275.35" y2="259.00" stroke="#f2f2f2" stroke-width="0.6" />
<line x1="304.06" y1="151.30" x2="304.06" y2="259.00" stroke="#f2f2f2" stroke-width="0.6" />
<line x1="332.77" y1="151.30" x2="332.77" y2="259.00" stroke="#f2f2f2" stroke-width="0.6" />
<line x1="361.48" y1="151.30" x2="361.48" y2="259.00" stroke="#f2f2f2" stroke-width="0.6" />
<line x1="390.19" y1="151.30" x2="390.19" y2="259.00" stroke="#f2f2f2" stroke-width="0.6" />
<line x1="232.28" y1="151.30" x2="232.28" y2="259.00" stroke="#f2f2f2" stroke-width="0.35" />
<line x1="261.00" y1="151.30" x2="261.00" y2="259.00" stroke="#f2f2f2" stroke-width="0.35" />
<line x1="289.70" y1="151.30" x2="289.70" y2="259.00" stroke="#f2f2f2" stroke-width="0.35" />
<line x1="318.42" y1="151.30" x2="318.42" y2="259.00" stroke="#f2f2f2" stroke-width="0.35" />
<line x1="347.12" y1="151.30" x2="347.12" y2="259.00" stroke="#f2f2f2" stroke-width="0.35" />
<line x1="375.84" y1="151.30" x2="375.84" y2="259.00" stroke="#f2f2f2" stroke-width="0.35" />
<line x1="219.40" y1="254.60" x2="398.00" y2="254.60" stroke="#f2f2f2" stroke-width="0.6" />
<line x1="219.40" y1="221.70" x2="398.00" y2="221.70" stroke="#f2f2f2" stroke-width="0.6" />
<line x1="219.40" y1="188.80" x2="398.00" y2="188.80" stroke="#f2f2f2" stroke-width="0.6" />
<line x1="219.40" y1="155.90" x2="398.00" y2="155.90" stroke="#f2f2f2" stroke-width="0.6" />
<line x1="219.40" y1="238.15" x2="398.00" y2="238.15" stroke="#f2f2f2" stroke-width="0.35" />
<line x1="219.40" y1="205.25" x2="398.00" y2="205.25" stroke="#f2f2f2" stroke-width="0.35" />
<line x1="219.40" y1="172.35" x2="398.00" y2="172.35" stroke="#f2f2f2" stroke-width="0.35" />
<polygon points="227.50,250.16 237.07,245.55 246.64,243.91 256.21,243.74 265.78,243.08 275.35,234.04 284.92,222.03 294.49,211.83 304.06,201.96 313.63,191.27 323.20,186.33 332.77,177.45 342.34,170.38 351.91,174.49 361.48,178.93 371.05,188.80 380.62,204.10 390.19,232.89 390.19,236.83 380.62,208.05 371.05,192.75 361.48,182.88 351.91,178.44 342.34,174.32 332.77,181.40 323.20,190.28 313.63,195.22 304.06,205.91 294.49,215.78 284.92,225.98 275.35,237.99 265.78,247.03 256.21,247.69 246.64,247.86 237.07,249.50 227.50,254.11" fill="#F0E442" fill-opacity="0.24" stroke="#c9b92a" stroke-opacity="0.45" stroke-width="0.4"/>
<polygon points="227.50,251.15 237.07,247.53 246.64,245.88 256.21,245.72 265.78,246.05 275.35,246.70 284.92,247.03 294.49,246.87 304.06,246.54 313.63,246.21 323.20,245.39 332.77,244.07 342.34,241.19 351.91,238.81 361.48,229.68 371.05,228.28 380.62,234.86 390.19,241.28 390.19,247.86 380.62,241.44 371.05,234.86 361.48,236.09 351.91,244.07 342.34,245.31 332.77,247.03 323.20,248.35 313.63,249.17 304.06,249.50 294.49,249.83 284.92,249.99 275.35,249.66 265.78,249.01 256.21,248.68 246.64,248.84 237.07,250.49 227.50,254.11" fill="#E69F00" fill-opacity="0.22" stroke="#d9951a" stroke-opacity="0.45" stroke-width="0.4"/>
<polygon points="227.50,242.32 237.07,224.15 246.64,203.68 256.21,187.48 265.78,176.79 275.35,171.36 284.92,177.45 294.49,179.59 304.06,189.46 313.63,201.47 323.20,210.68 332.77,221.54 342.34,229.92 351.91,238.48 361.48,241.44 371.05,243.25 380.62,245.22 390.19,246.54 390.19,254.11 380.62,252.79 371.05,250.82 361.48,249.01 351.91,246.05 342.34,237.49 332.77,229.10 323.20,218.25 313.63,209.03 304.06,197.02 294.49,187.15 284.92,185.02 275.35,178.93 265.78,184.36 256.21,195.05 246.64,210.11 237.07,229.45 227.50,246.48" fill="#009E73" fill-opacity="0.3" stroke="#0e8a66" stroke-opacity="0.45" stroke-width="0.4"/>
<polygon points="227.50,242.59 237.07,224.33 246.64,202.45 256.21,178.93 265.78,171.86 275.35,167.41 284.92,164.78 294.49,162.15 304.06,163.63 313.63,164.78 323.20,167.74 332.77,166.43 342.34,168.40 351.91,168.73 361.48,172.19 371.05,183.37 380.62,200.97 390.19,230.75 390.19,237.33 380.62,207.55 371.05,189.95 361.48,178.77 351.91,175.31 342.34,174.98 332.77,173.01 323.20,174.32 313.63,171.36 304.06,170.21 294.49,168.73 284.92,171.36 275.35,174.00 265.78,178.44 256.21,185.51 246.64,208.05 237.07,228.94 227.50,246.21" fill="#666666" fill-opacity="0.3" stroke="#222222" stroke-opacity="0.45" stroke-width="0.4"/>
<polyline points="227.50,252.13 237.07,247.53 246.64,245.88 256.21,245.72 265.78,245.06 275.35,236.01 284.92,224.00 294.49,213.80 304.06,203.93 313.63,193.24 323.20,188.31 332.77,179.42 342.34,172.35 351.91,176.46 361.48,180.90 371.05,190.77 380.62,206.07 390.19,234.86" fill="none" stroke="#c9b92a" stroke-width="0.6"/>
<circle cx="227.50" cy="252.13" r="0.55" fill="#b8a925"/>
<circle cx="237.07" cy="247.53" r="0.55" fill="#b8a925"/>
<circle cx="246.64" cy="245.88" r="0.55" fill="#b8a925"/>
<circle cx="256.21" cy="245.72" r="0.55" fill="#b8a925"/>
<circle cx="265.78" cy="245.06" r="0.55" fill="#b8a925"/>
<circle cx="275.35" cy="236.01" r="0.55" fill="#b8a925"/>
<circle cx="284.92" cy="224.00" r="0.55" fill="#b8a925"/>
<circle cx="294.49" cy="213.80" r="0.55" fill="#b8a925"/>
<circle cx="304.06" cy="203.93" r="0.55" fill="#b8a925"/>
<circle cx="313.63" cy="193.24" r="0.55" fill="#b8a925"/>
<circle cx="323.20" cy="188.31" r="0.55" fill="#b8a925"/>
<circle cx="332.77" cy="179.42" r="0.55" fill="#b8a925"/>
<circle cx="342.34" cy="172.35" r="0.55" fill="#b8a925"/>
<circle cx="351.91" cy="176.46" r="0.55" fill="#b8a925"/>
<circle cx="361.48" cy="180.90" r="0.55" fill="#b8a925"/>
<circle cx="371.05" cy="190.77" r="0.55" fill="#b8a925"/>
<circle cx="380.62" cy="206.07" r="0.55" fill="#b8a925"/>
<circle cx="390.19" cy="234.86" r="0.55" fill="#b8a925"/>
<polyline points="227.50,252.63 237.07,249.01 246.64,247.36 256.21,247.20 265.78,247.53 275.35,248.18 284.92,248.51 294.49,248.35 304.06,248.02 313.63,247.69 323.20,246.87 332.77,245.55 342.34,243.25 351.91,241.44 361.48,232.89 371.05,231.57 380.62,238.15 390.19,244.57" fill="none" stroke="#d9951a" stroke-width="0.6"/>
<circle cx="227.50" cy="252.63" r="0.6" fill="#b07a1a"/>
<circle cx="237.07" cy="249.01" r="0.6" fill="#b07a1a"/>
<circle cx="246.64" cy="247.36" r="0.6" fill="#b07a1a"/>
<circle cx="256.21" cy="247.20" r="0.6" fill="#b07a1a"/>
<circle cx="265.78" cy="247.53" r="0.6" fill="#b07a1a"/>
<circle cx="275.35" cy="248.18" r="0.6" fill="#b07a1a"/>
<circle cx="284.92" cy="248.51" r="0.6" fill="#b07a1a"/>
<circle cx="294.49" cy="248.35" r="0.6" fill="#b07a1a"/>
<circle cx="304.06" cy="248.02" r="0.6" fill="#b07a1a"/>
<circle cx="313.63" cy="247.69" r="0.6" fill="#b07a1a"/>
<circle cx="323.20" cy="246.87" r="0.6" fill="#b07a1a"/>
<circle cx="332.77" cy="245.55" r="0.6" fill="#b07a1a"/>
<circle cx="342.34" cy="243.25" r="0.6" fill="#b07a1a"/>
<circle cx="351.91" cy="241.44" r="0.6" fill="#b07a1a"/>
<circle cx="361.48" cy="232.89" r="0.6" fill="#b07a1a"/>
<circle cx="371.05" cy="231.57" r="0.6" fill="#b07a1a"/>
<circle cx="380.62" cy="238.15" r="0.6" fill="#b07a1a"/>
<circle cx="390.19" cy="244.57" r="0.6" fill="#b07a1a"/>
<polyline points="227.50,244.40 237.07,226.80 246.64,206.89 256.21,191.27 265.78,180.57 275.35,175.15 284.92,181.23 294.49,183.37 304.06,193.24 313.63,205.25 323.20,214.46 332.77,225.32 342.34,233.71 351.91,242.26 361.48,245.22 371.05,247.03 380.62,249.01 390.19,250.32" fill="none" stroke="#0e8a66" stroke-width="0.7"/>
<circle cx="227.50" cy="244.40" r="0.85" fill="#0a4f3c"/>
<circle cx="237.07" cy="226.80" r="0.85" fill="#0a4f3c"/>
<circle cx="246.64" cy="206.89" r="0.85" fill="#0a4f3c"/>
<circle cx="256.21" cy="191.27" r="0.85" fill="#0a4f3c"/>
<circle cx="265.78" cy="180.57" r="0.85" fill="#0a4f3c"/>
<circle cx="275.35" cy="175.15" r="0.85" fill="#0a4f3c"/>
<circle cx="284.92" cy="181.23" r="0.85" fill="#0a4f3c"/>
<circle cx="294.49" cy="183.37" r="0.85" fill="#0a4f3c"/>
<circle cx="304.06" cy="193.24" r="0.85" fill="#0a4f3c"/>
<circle cx="313.63" cy="205.25" r="0.85" fill="#0a4f3c"/>
<circle cx="323.20" cy="214.46" r="0.85" fill="#0a4f3c"/>
<circle cx="332.77" cy="225.32" r="0.85" fill="#0a4f3c"/>
<circle cx="342.34" cy="233.71" r="0.85" fill="#0a4f3c"/>
<circle cx="351.91" cy="242.26" r="0.85" fill="#0a4f3c"/>
<circle cx="361.48" cy="245.22" r="0.85" fill="#0a4f3c"/>
<circle cx="371.05" cy="247.03" r="0.85" fill="#0a4f3c"/>
<circle cx="380.62" cy="249.01" r="0.85" fill="#0a4f3c"/>
<circle cx="390.19" cy="250.32" r="0.85" fill="#0a4f3c"/>
<polyline points="227.50,244.40 237.07,226.63 246.64,205.25 256.21,182.22 265.78,175.15 275.35,170.70 284.92,168.07 294.49,165.44 304.06,166.92 313.63,168.07 323.20,171.03 332.77,169.72 342.34,171.69 351.91,172.02 361.48,175.48 371.05,186.66 380.62,204.26 390.19,234.04" fill="none" stroke="#222222" stroke-width="0.55"/>
<circle cx="227.50" cy="244.40" r="0.9" fill="#111111"/>
<circle cx="237.07" cy="226.63" r="0.9" fill="#111111"/>
<circle cx="246.64" cy="205.25" r="0.9" fill="#111111"/>
<circle cx="256.21" cy="182.22" r="0.9" fill="#111111"/>
<circle cx="265.78" cy="175.15" r="0.9" fill="#111111"/>
<circle cx="275.35" cy="170.70" r="0.9" fill="#111111"/>
<circle cx="284.92" cy="168.07" r="0.9" fill="#111111"/>
<circle cx="294.49" cy="165.44" r="0.9" fill="#111111"/>
<circle cx="304.06" cy="166.92" r="0.9" fill="#111111"/>
<circle cx="313.63" cy="168.07" r="0.9" fill="#111111"/>
<circle cx="323.20" cy="171.03" r="0.9" fill="#111111"/>
<circle cx="332.77" cy="169.72" r="0.9" fill="#111111"/>
<circle cx="342.34" cy="171.69" r="0.9" fill="#111111"/>
<circle cx="351.91" cy="172.02" r="0.9" fill="#111111"/>
<circle cx="361.48" cy="175.48" r="0.9" fill="#111111"/>
<circle cx="371.05" cy="186.66" r="0.9" fill="#111111"/>
<circle cx="380.62" cy="204.26" r="0.9" fill="#111111"/>
<circle cx="390.19" cy="234.04" r="0.9" fill="#111111"/>
<line x1="219.40" y1="151.30" x2="219.40" y2="259.40" stroke="#3a3a3a" stroke-width="0.8" />
<line x1="219.00" y1="259.00" x2="398.00" y2="259.00" stroke="#3a3a3a" stroke-width="0.8" />
<line x1="217.60" y1="254.60" x2="219.40" y2="254.60" stroke="#3a3a3a" stroke-width="0.6" />
<text x="216.80" y="256.70" font-size="6.0" text-anchor="end" font-family='"Liberation Serif", serif' fill="#161616" stroke="#161616" stroke-width="0.14" >0</text>
<line x1="217.60" y1="221.70" x2="219.40" y2="221.70" stroke="#3a3a3a" stroke-width="0.6" />
<text x="216.80" y="223.80" font-size="6.0" text-anchor="end" font-family='"Liberation Serif", serif' fill="#161616" stroke="#161616" stroke-width="0.14" >20</text>
<line x1="217.60" y1="188.80" x2="219.40" y2="188.80" stroke="#3a3a3a" stroke-width="0.6" />
<text x="216.80" y="190.90" font-size="6.0" text-anchor="end" font-family='"Liberation Serif", serif' fill="#161616" stroke="#161616" stroke-width="0.14" >40</text>
<line x1="217.60" y1="155.90" x2="219.40" y2="155.90" stroke="#3a3a3a" stroke-width="0.6" />
<text x="216.80" y="158.00" font-size="6.0" text-anchor="end" font-family='"Liberation Serif", serif' fill="#161616" stroke="#161616" stroke-width="0.14" >60</text>
<line x1="246.64" y1="259.00" x2="246.64" y2="260.80" stroke="#3a3a3a" stroke-width="0.6" />
<text x="246.64" y="266.40" font-size="6.0" text-anchor="middle" font-family='"Liberation Serif", serif' fill="#161616" stroke="#161616" stroke-width="0.14" >08:00</text>
<line x1="275.35" y1="259.00" x2="275.35" y2="260.80" stroke="#3a3a3a" stroke-width="0.6" />
<text x="275.35" y="266.40" font-size="6.0" text-anchor="middle" font-family='"Liberation Serif", serif' fill="#161616" stroke="#161616" stroke-width="0.14" >11:00</text>
<line x1="304.06" y1="259.00" x2="304.06" y2="260.80" stroke="#3a3a3a" stroke-width="0.6" />
<text x="304.06" y="266.40" font-size="6.0" text-anchor="middle" font-family='"Liberation Serif", serif' fill="#161616" stroke="#161616" stroke-width="0.14" >14:00</text>
<line x1="332.77" y1="259.00" x2="332.77" y2="260.80" stroke="#3a3a3a" stroke-width="0.6" />
<text x="332.77" y="266.40" font-size="6.0" text-anchor="middle" font-family='"Liberation Serif", serif' fill="#161616" stroke="#161616" stroke-width="0.14" >17:00</text>
<line x1="361.48" y1="259.00" x2="361.48" y2="260.80" stroke="#3a3a3a" stroke-width="0.6" />
<text x="361.48" y="266.40" font-size="6.0" text-anchor="middle" font-family='"Liberation Serif", serif' fill="#161616" stroke="#161616" stroke-width="0.14" >20:00</text>
<line x1="390.19" y1="259.00" x2="390.19" y2="260.80" stroke="#3a3a3a" stroke-width="0.6" />
<text x="390.19" y="266.40" font-size="6.0" text-anchor="middle" font-family='"Liberation Serif", serif' fill="#161616" stroke="#161616" stroke-width="0.14" >23:00</text>
<text x="309.00" y="273.40" font-size="6.2" text-anchor="middle" font-family='"Liberation Serif", serif' fill="#161616" stroke="#161616" stroke-width="0.14" >Time</text>
<text x="206.30" y="204.00" font-size="6.2" text-anchor="middle" font-family='"Liberation Serif", serif' fill="#161616" stroke="#161616" stroke-width="0.14" transform="rotate(-90 206.3 204.0)" dominant-baseline="middle">Minutes / hour ±95% CI</text>
<text x="202.1" y="145.8" font-size="6.3" font-weight="bold" font-family='"Liberation Sans", sans-serif' fill="#111">D</text>
<text x="158.60" y="287.00" font-size="5.9" text-anchor="start" font-family='"Liberation Serif", serif' fill="#161616" stroke="#161616" stroke-width="0.14" font-style="italic">cluster</text>
<rect x="176.20" y="281.2" width="7.8" height="7.8" fill="#009E73" fill-opacity="0.22" stroke="#5cbf9c" stroke-width="0.7"/>
<line x1="177.40" y1="285.1" x2="182.80" y2="285.1" stroke="#0a4f3c" stroke-opacity="0.5" stroke-width="0.5"/>
<circle cx="180.10" cy="285.1" r="0.7" fill="#0a4f3c"/>
<text x="188.80" y="287.00" font-size="5.4" text-anchor="middle" font-family='"Liberation Serif", serif' fill="#161616" stroke="#161616" stroke-width="0.14" >1</text>
<rect x="194.00" y="281.2" width="7.8" height="7.8" fill="#F0E442" fill-opacity="0.22" stroke="#eee07a" stroke-width="0.7"/>
<line x1="195.20" y1="285.1" x2="200.60" y2="285.1" stroke="#c9b92a" stroke-opacity="0.5" stroke-width="0.5"/>
<circle cx="197.90" cy="285.1" r="0.7" fill="#c9b92a"/>
<text x="206.60" y="287.00" font-size="5.4" text-anchor="middle" font-family='"Liberation Serif", serif' fill="#161616" stroke="#161616" stroke-width="0.14" >2</text>
<rect x="211.00" y="281.2" width="7.8" height="7.8" fill="#E69F00" fill-opacity="0.22" stroke="#ebc070" stroke-width="0.7"/>
<line x1="212.20" y1="285.1" x2="217.60" y2="285.1" stroke="#d08a10" stroke-opacity="0.5" stroke-width="0.5"/>
<circle cx="214.90" cy="285.1" r="0.7" fill="#d08a10"/>
<text x="223.60" y="287.00" font-size="5.4" text-anchor="middle" font-family='"Liberation Serif", serif' fill="#161616" stroke="#161616" stroke-width="0.14" >3</text>
<rect x="228.00" y="281.2" width="7.8" height="7.8" fill="#888888" fill-opacity="0.22" stroke="#444444" stroke-width="0.7"/>
<line x1="229.20" y1="285.1" x2="234.60" y2="285.1" stroke="#111111" stroke-opacity="0.5" stroke-width="0.5"/>
<circle cx="231.90" cy="285.1" r="0.7" fill="#111111"/>
<text x="240.60" y="287.00" font-size="5.4" text-anchor="middle" font-family='"Liberation Serif", serif' fill="#161616" stroke="#161616" stroke-width="0.14" >4</text>
</svg>
</body></html>
